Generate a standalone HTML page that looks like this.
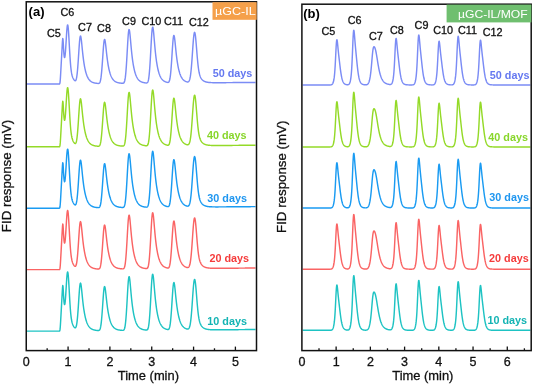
<!DOCTYPE html><html><head><meta charset="utf-8"><style>html,body{margin:0;padding:0;background:#fff;width:533px;height:384px;overflow:hidden}svg{display:block;will-change:transform}text[fill="#111"]{stroke:#111;stroke-width:.3px}</style></head><body>
<svg width="533" height="384" viewBox="0 0 533 384" font-family="Liberation Sans, sans-serif">
<polyline fill="none" stroke="#7b8cf5" stroke-width="1.45" stroke-linejoin="round" points="27.00,84.00 27.25,84.00 27.50,84.00 27.75,84.00 28.00,84.00 28.25,84.00 28.50,84.00 28.75,84.00 29.00,84.00 29.25,84.00 29.50,84.00 29.75,84.00 30.00,84.00 30.25,84.00 30.50,84.00 30.75,84.00 31.00,84.00 31.25,84.00 31.50,84.00 31.75,84.00 32.00,84.00 32.25,84.00 32.50,84.00 32.75,84.00 33.00,84.00 33.25,84.00 33.50,84.00 33.75,84.00 34.00,84.00 34.25,84.00 34.50,84.00 34.75,84.00 35.00,84.00 35.25,84.00 35.50,84.00 35.75,84.00 36.00,84.00 36.25,84.00 36.50,84.00 36.75,84.00 37.00,84.00 37.25,84.00 37.50,84.00 37.75,84.00 38.00,84.00 38.25,84.00 38.50,84.00 38.75,84.00 39.00,84.00 39.25,84.00 39.50,84.00 39.75,84.00 40.00,84.00 40.25,84.00 40.50,84.00 40.75,84.00 41.00,84.00 41.25,84.00 41.50,84.00 41.75,84.00 42.00,84.00 42.25,84.00 42.50,84.00 42.75,84.00 43.00,84.00 43.25,84.00 43.50,84.00 43.75,84.00 44.00,84.00 44.25,84.00 44.50,84.00 44.75,84.00 45.00,84.00 45.25,84.00 45.50,84.00 45.75,84.00 46.00,84.00 46.25,84.00 46.50,84.00 46.75,84.00 47.00,84.00 47.25,84.00 47.50,84.00 47.75,84.00 48.00,84.00 48.25,84.00 48.50,84.00 48.75,84.00 49.00,84.00 49.25,84.00 49.50,84.00 49.75,84.00 50.00,84.00 50.25,84.00 50.50,84.00 50.75,84.00 51.00,84.00 51.25,84.00 51.50,84.00 51.75,84.00 52.00,84.00 52.25,84.00 52.50,84.00 52.75,84.00 53.00,84.00 53.25,84.00 53.50,84.00 53.75,84.00 54.00,84.00 54.25,84.00 54.50,84.00 54.75,84.00 55.00,84.00 55.25,84.00 55.50,84.00 55.75,84.00 56.00,84.00 56.25,84.00 56.50,84.00 56.75,84.00 57.00,84.00 57.25,84.00 57.50,84.00 57.75,84.00 58.00,84.00 58.25,84.00 58.50,84.00 58.75,84.00 59.00,84.00 59.25,84.00 59.50,83.95 59.75,83.65 60.00,82.56 60.25,80.10 60.50,76.39 60.75,72.06 61.00,67.57 61.25,63.05 61.50,58.52 61.75,53.98 62.00,49.42 62.25,44.89 62.50,40.82 62.75,38.43 63.00,39.20 63.25,42.89 63.50,47.57 63.75,51.69 64.00,54.74 64.25,56.68 64.50,57.53 64.75,57.33 65.00,56.13 65.25,54.00 65.50,51.07 65.75,47.49 66.00,43.47 66.25,39.27 66.50,35.16 66.75,31.42 67.00,28.33 67.25,26.12 67.50,24.96 67.75,24.94 68.00,26.06 68.25,28.25 68.50,31.34 68.75,35.15 69.00,39.44 69.25,43.96 69.50,48.51 69.75,52.89 70.00,56.97 70.25,60.66 70.50,63.90 70.75,66.69 71.00,69.04 71.25,71.01 71.50,72.64 71.75,73.98 72.00,75.09 72.25,76.02 72.50,76.80 72.75,77.47 73.00,78.04 73.25,78.55 73.50,79.00 73.75,79.40 74.00,79.76 74.25,80.07 74.50,80.34 74.75,80.55 75.00,80.69 75.25,80.74 75.50,80.66 75.75,80.40 76.00,79.93 76.25,79.20 76.50,78.16 76.75,76.77 77.00,75.00 77.25,72.84 77.50,70.28 77.75,67.34 78.00,64.06 78.25,60.50 78.50,56.73 78.75,52.86 79.00,49.04 79.25,45.42 79.50,42.18 79.75,39.50 80.00,37.51 80.25,36.32 80.50,35.97 80.75,36.41 81.00,37.55 81.25,39.27 81.50,41.40 81.75,43.79 82.00,46.30 82.25,48.82 82.50,51.29 82.75,53.65 83.00,55.87 83.25,57.95 83.50,59.88 83.75,61.68 84.00,63.34 84.25,64.87 84.50,66.29 84.75,67.61 85.00,68.82 85.25,69.95 85.50,70.99 85.75,71.95 86.00,72.84 86.25,73.66 86.50,74.42 86.75,75.12 87.00,75.77 87.25,76.37 87.50,76.92 87.75,77.44 88.00,77.91 88.25,78.35 88.50,78.76 88.75,79.13 89.00,79.48 89.25,79.80 89.50,80.09 89.75,80.37 90.00,80.62 90.25,80.85 90.50,81.07 90.75,81.27 91.00,81.45 91.25,81.62 91.50,81.78 91.75,81.93 92.00,82.06 92.25,82.19 92.50,82.30 92.75,82.41 93.00,82.50 93.25,82.59 93.50,82.68 93.75,82.75 94.00,82.83 94.25,82.89 94.50,82.95 94.75,83.01 95.00,83.06 95.25,83.11 95.50,83.15 95.75,83.19 96.00,83.23 96.25,83.26 96.50,83.29 96.75,83.32 97.00,83.35 97.25,83.37 97.50,83.39 97.75,83.41 98.00,83.42 98.25,83.43 98.50,83.42 98.75,83.38 99.00,83.31 99.25,83.18 99.50,82.96 99.75,82.61 100.00,82.09 100.25,81.36 100.50,80.37 100.75,79.08 101.00,77.45 101.25,75.48 101.50,73.14 101.75,70.44 102.00,67.42 102.25,64.12 102.50,60.60 102.75,56.95 103.00,53.29 103.25,49.76 103.50,46.53 103.75,43.76 104.00,41.59 104.25,40.14 104.50,39.46 104.75,39.55 105.00,40.33 105.25,41.71 105.50,43.53 105.75,45.66 106.00,47.94 106.25,50.28 106.50,52.59 106.75,54.82 107.00,56.93 107.25,58.91 107.50,60.75 107.75,62.46 108.00,64.05 108.25,65.51 108.50,66.87 108.75,68.13 109.00,69.29 109.25,70.36 109.50,71.35 109.75,72.27 110.00,73.12 110.25,73.91 110.50,74.63 110.75,75.30 111.00,75.92 111.25,76.50 111.50,77.03 111.75,77.52 112.00,77.97 112.25,78.39 112.50,78.78 112.75,79.14 113.00,79.47 113.25,79.77 113.50,80.06 113.75,80.32 114.00,80.56 114.25,80.78 114.50,80.99 114.75,81.18 115.00,81.36 115.25,81.52 115.50,81.67 115.75,81.81 116.00,81.94 116.25,82.06 116.50,82.17 116.75,82.27 117.00,82.36 117.25,82.45 117.50,82.53 117.75,82.60 118.00,82.67 118.25,82.73 118.50,82.79 118.75,82.84 119.00,82.89 119.25,82.94 119.50,82.98 119.75,83.02 120.00,83.05 120.25,83.08 120.50,83.11 120.75,83.14 121.00,83.17 121.25,83.19 121.50,83.21 121.75,83.23 122.00,83.25 122.25,83.26 122.50,83.27 122.75,83.27 123.00,83.25 123.25,83.20 123.50,83.10 123.75,82.94 124.00,82.66 124.25,82.23 124.50,81.60 124.75,80.70 125.00,79.49 125.25,77.92 125.50,75.93 125.75,73.52 126.00,70.66 126.25,67.38 126.50,63.69 126.75,59.66 127.00,55.36 127.25,50.91 127.50,46.45 127.75,42.15 128.00,38.21 128.25,34.82 128.50,32.18 128.75,30.41 129.00,29.58 129.25,29.68 129.50,30.64 129.75,32.32 130.00,34.54 130.25,37.13 130.50,39.92 130.75,42.77 131.00,45.59 131.25,48.30 131.50,50.88 131.75,53.29 132.00,55.54 132.25,57.62 132.50,59.56 132.75,61.35 133.00,63.00 133.25,64.53 133.50,65.95 133.75,67.26 134.00,68.47 134.25,69.59 134.50,70.63 134.75,71.58 135.00,72.47 135.25,73.29 135.50,74.04 135.75,74.74 136.00,75.39 136.25,75.99 136.50,76.54 136.75,77.05 137.00,77.53 137.25,77.96 137.50,78.37 137.75,78.74 138.00,79.09 138.25,79.41 138.50,79.70 138.75,79.98 139.00,80.23 139.25,80.46 139.50,80.68 139.75,80.88 140.00,81.06 140.25,81.23 140.50,81.39 140.75,81.53 141.00,81.67 141.25,81.79 141.50,81.90 141.75,82.01 142.00,82.11 142.25,82.20 142.50,82.28 142.75,82.36 143.00,82.43 143.25,82.49 143.50,82.55 143.75,82.61 144.00,82.66 144.25,82.71 144.50,82.75 144.75,82.79 145.00,82.83 145.25,82.86 145.50,82.89 145.75,82.92 146.00,82.94 146.25,82.95 146.50,82.95 146.75,82.92 147.00,82.85 147.25,82.72 147.50,82.49 147.75,82.12 148.00,81.56 148.25,80.75 148.50,79.63 148.75,78.15 149.00,76.26 149.25,73.93 149.50,71.15 149.75,67.91 150.00,64.24 150.25,60.18 150.50,55.81 150.75,51.23 151.00,46.57 151.25,42.00 151.50,37.73 151.75,33.95 152.00,30.87 152.25,28.65 152.50,27.40 152.75,27.12 153.00,27.79 153.25,29.25 153.50,31.36 153.75,33.93 154.00,36.77 154.25,39.72 154.50,42.68 154.75,45.56 155.00,48.30 155.25,50.88 155.50,53.28 155.75,55.52 156.00,57.60 156.25,59.52 156.50,61.30 156.75,62.95 157.00,64.47 157.25,65.87 157.50,67.17 157.75,68.38 158.00,69.49 158.25,70.52 158.50,71.47 158.75,72.35 159.00,73.16 159.25,73.91 159.50,74.61 159.75,75.25 160.00,75.85 160.25,76.40 160.50,76.90 160.75,77.37 161.00,77.81 161.25,78.21 161.50,78.58 161.75,78.92 162.00,79.24 162.25,79.53 162.50,79.80 162.75,80.06 163.00,80.29 163.25,80.50 163.50,80.70 163.75,80.88 164.00,81.05 164.25,81.21 164.50,81.35 164.75,81.48 165.00,81.61 165.25,81.72 165.50,81.82 165.75,81.92 166.00,82.01 166.25,82.09 166.50,82.17 166.75,82.24 167.00,82.30 167.25,82.36 167.50,82.40 167.75,82.42 168.00,82.43 168.25,82.39 168.50,82.28 168.75,82.09 169.00,81.77 169.25,81.28 169.50,80.56 169.75,79.57 170.00,78.26 170.25,76.60 170.50,74.56 170.75,72.14 171.00,69.32 171.25,66.15 171.50,62.66 171.75,58.92 172.00,55.01 172.25,51.07 172.50,47.24 172.75,43.69 173.00,40.60 173.25,38.13 173.50,36.41 173.75,35.51 174.00,35.45 174.25,36.16 174.50,37.53 174.75,39.42 175.00,41.65 175.25,44.09 175.50,46.61 175.75,49.11 176.00,51.54 176.25,53.84 176.50,56.00 176.75,58.02 177.00,59.89 177.25,61.62 177.50,63.23 177.75,64.72 178.00,66.09 178.25,67.36 178.50,68.54 178.75,69.63 179.00,70.63 179.25,71.56 179.50,72.42 179.75,73.22 180.00,73.95 180.25,74.63 180.50,75.26 180.75,75.84 181.00,76.38 181.25,76.88 181.50,77.33 181.75,77.76 182.00,78.15 182.25,78.51 182.50,78.85 182.75,79.16 183.00,79.45 183.25,79.71 183.50,79.96 183.75,80.18 184.00,80.39 184.25,80.58 184.50,80.76 184.75,80.93 185.00,81.08 185.25,81.22 185.50,81.35 185.75,81.47 186.00,81.57 186.25,81.67 186.50,81.76 186.75,81.83 187.00,81.89 187.25,81.93 187.50,81.96 187.75,81.95 188.00,81.91 188.25,81.82 188.50,81.67 188.75,81.43 189.00,81.10 189.25,80.64 189.50,80.03 189.75,79.23 190.00,78.20 190.25,76.92 190.50,75.36 190.75,73.49 191.00,71.29 191.25,68.75 191.50,65.90 191.75,62.75 192.00,59.35 192.25,55.78 192.50,52.11 192.75,48.45 193.00,44.91 193.25,41.61 193.50,38.66 193.75,36.19 194.00,34.27 194.25,32.98 194.50,32.36 194.75,32.43 195.00,33.17 195.25,34.54 195.50,36.45 195.75,38.83 196.00,41.57 196.25,44.55 196.50,47.68 196.75,50.85 197.00,53.97 197.25,56.97 197.50,59.79 197.75,62.40 198.00,64.76 198.25,66.88 198.50,68.75 198.75,70.38 199.00,71.81 199.25,73.04 199.50,74.10 199.75,75.01 200.00,75.80 200.25,76.49 200.50,77.08 200.75,77.61 201.00,78.07 201.25,78.48 201.50,78.85 201.75,79.18 202.00,79.48 202.25,79.75 202.50,80.00 202.75,80.23 203.00,80.44 203.25,80.63 203.50,80.80 203.75,80.96 204.00,81.11 204.25,81.25 204.50,81.37 204.75,81.48 205.00,81.59 205.25,81.69 205.50,81.77 205.75,81.86 206.00,81.93 206.25,82.00 206.50,82.06 206.75,82.12 207.00,82.17 207.25,82.22 207.50,82.26 207.75,82.30 208.00,82.34 208.25,82.38 208.50,82.41 208.75,82.44 209.00,82.46 209.25,82.49 209.50,82.51 209.75,82.53 210.00,82.55 210.25,82.56 210.50,82.58 210.75,82.59 211.00,82.60 211.25,82.62 211.50,82.63 211.75,82.63 212.00,82.64 212.25,82.65 212.50,82.66 212.75,82.66 213.00,82.67 213.25,82.67 213.50,82.68 213.75,82.68 214.00,82.68 214.25,82.69 214.50,82.69 214.75,82.69 215.00,82.69 215.25,82.70 215.50,82.70 215.75,82.70 216.00,82.70 216.25,82.70 216.50,82.70 216.75,82.70 217.00,82.70 217.25,82.70 217.50,82.70 217.75,82.70 218.00,82.70 218.25,82.70 218.50,82.70 218.75,82.69 219.00,82.69 219.25,82.69 219.50,82.69 219.75,82.69 220.00,82.69 220.25,82.69 220.50,82.69 220.75,82.68 221.00,82.68 221.25,82.68 221.50,82.68 221.75,82.68 222.00,82.68 222.25,82.67 222.50,82.67 222.75,82.67 223.00,82.67 223.25,82.67 223.50,82.67 223.75,82.66 224.00,82.66 224.25,82.66 224.50,82.66 224.75,82.66 225.00,82.65 225.25,82.65 225.50,82.65 225.75,82.65 226.00,82.65 226.25,82.65 226.50,82.64 226.75,82.64 227.00,82.64 227.25,82.64 227.50,82.64 227.75,82.63 228.00,82.63 228.25,82.63 228.50,82.63 228.75,82.63 229.00,82.62 229.25,82.62 229.50,82.62 229.75,82.62 230.00,82.62 230.25,82.61 230.50,82.61 230.75,82.61 231.00,82.61 231.25,82.61 231.50,82.60 231.75,82.60 232.00,82.60 232.25,82.60 232.50,82.60 232.75,82.59 233.00,82.59 233.25,82.59 233.50,82.59 233.75,82.59 234.00,82.58 234.25,82.58 234.50,82.58 234.75,82.58 235.00,82.58 235.25,82.57 235.50,82.57 235.75,82.57 236.00,82.57 236.25,82.56 236.50,82.56 236.75,82.56 237.00,82.56 237.25,82.56 237.50,82.55 237.75,82.55 238.00,82.55 238.25,82.55 238.50,82.55 238.75,82.54 239.00,82.54 239.25,82.54 239.50,82.54 239.75,82.54 240.00,82.53 240.25,82.53 240.50,82.53 240.75,82.53 241.00,82.53 241.25,82.52 241.50,82.52 241.75,82.52 242.00,82.52 242.25,82.52 242.50,82.51 242.75,82.51 243.00,82.51 243.25,82.51 243.50,82.51 243.75,82.50 244.00,82.50 244.25,82.50 244.50,82.50 244.75,82.50 245.00,82.49 245.25,82.49 245.50,82.49 245.75,82.49 246.00,82.49 246.25,82.48 246.50,82.48 246.75,82.48 247.00,82.48 247.25,82.48 247.50,82.47 247.75,82.47 248.00,82.47 248.25,82.47 248.50,82.47 248.75,82.46 249.00,82.46 249.25,82.46 249.50,82.46 249.75,82.45 250.00,82.45 250.25,82.45 250.50,82.45 250.75,82.45 251.00,82.44 251.25,82.44 251.50,82.44 251.75,82.44 252.00,82.44 252.25,82.43 252.50,82.43 252.75,82.43 253.00,82.43 253.25,82.43 253.50,82.42 253.75,82.42 254.00,82.42 254.25,82.42 254.50,82.42 254.75,82.41 255.00,82.41 255.25,82.41 255.50,82.41"/>
<polyline fill="none" stroke="#7b8cf5" stroke-width="1.45" stroke-linejoin="round" points="302.65,84.94 302.90,84.94 303.15,84.94 303.40,84.94 303.65,84.94 303.90,84.94 304.15,84.94 304.40,84.94 304.65,84.94 304.90,84.94 305.15,84.94 305.40,84.94 305.65,84.94 305.90,84.94 306.15,84.94 306.40,84.94 306.65,84.94 306.90,84.94 307.15,84.94 307.40,84.94 307.65,84.94 307.90,84.94 308.15,84.94 308.40,84.94 308.65,84.94 308.90,84.94 309.15,84.94 309.40,84.94 309.65,84.94 309.90,84.94 310.15,84.94 310.40,84.94 310.65,84.94 310.90,84.94 311.15,84.94 311.40,84.94 311.65,84.94 311.90,84.94 312.15,84.94 312.40,84.94 312.65,84.94 312.90,84.94 313.15,84.94 313.40,84.94 313.65,84.94 313.90,84.94 314.15,84.94 314.40,84.94 314.65,84.94 314.90,84.94 315.15,84.94 315.40,84.94 315.65,84.94 315.90,84.94 316.15,84.94 316.40,84.94 316.65,84.94 316.90,84.94 317.15,84.94 317.40,84.94 317.65,84.94 317.90,84.94 318.15,84.94 318.40,84.94 318.65,84.94 318.90,84.94 319.15,84.94 319.40,84.94 319.65,84.94 319.90,84.94 320.15,84.94 320.40,84.94 320.65,84.94 320.90,84.94 321.15,84.94 321.40,84.94 321.65,84.94 321.90,84.94 322.15,84.94 322.40,84.94 322.65,84.94 322.90,84.94 323.15,84.94 323.40,84.94 323.65,84.94 323.90,84.94 324.15,84.94 324.40,84.94 324.65,84.94 324.90,84.94 325.15,84.94 325.40,84.94 325.65,84.94 325.90,84.94 326.15,84.94 326.40,84.94 326.65,84.94 326.90,84.94 327.15,84.94 327.40,84.94 327.65,84.94 327.90,84.94 328.15,84.94 328.40,84.94 328.65,84.94 328.90,84.94 329.15,84.94 329.40,84.94 329.65,84.93 329.90,84.93 330.15,84.92 330.40,84.91 330.65,84.89 330.90,84.86 331.15,84.82 331.40,84.75 331.65,84.66 331.90,84.52 332.15,84.33 332.40,84.06 332.65,83.70 332.90,83.22 333.15,82.60 333.40,81.80 333.65,80.78 333.90,79.50 334.15,77.89 334.40,75.85 334.65,73.28 334.90,70.06 335.15,66.12 335.40,61.50 335.65,56.40 335.90,51.21 336.15,46.46 336.40,42.71 336.65,40.38 336.90,39.64 337.15,40.35 337.40,42.14 337.65,44.55 337.90,47.18 338.15,49.76 338.40,52.19 338.65,54.47 338.90,56.66 339.15,58.81 339.40,60.96 339.65,63.11 339.90,65.23 340.15,67.31 340.40,69.29 340.65,71.16 340.90,72.90 341.15,74.48 341.40,75.90 341.65,77.17 341.90,78.28 342.15,79.26 342.40,80.11 342.65,80.84 342.90,81.46 343.15,82.00 343.40,82.45 343.65,82.84 343.90,83.17 344.15,83.45 344.40,83.68 344.65,83.88 344.90,84.04 345.15,84.18 345.40,84.30 345.65,84.40 345.90,84.49 346.15,84.56 346.40,84.61 346.65,84.66 346.90,84.70 347.15,84.72 347.40,84.73 347.65,84.73 347.90,84.71 348.15,84.67 348.40,84.59 348.65,84.47 348.90,84.29 349.15,84.03 349.40,83.68 349.65,83.19 349.90,82.56 350.15,81.72 350.40,80.66 350.65,79.31 350.90,77.62 351.15,75.48 351.40,72.77 351.65,69.36 351.90,65.13 352.15,60.02 352.40,54.16 352.65,47.88 352.90,41.73 353.15,36.39 353.40,32.50 353.65,30.45 353.90,30.29 354.15,31.73 354.40,34.27 354.65,37.34 354.90,40.53 355.15,43.59 355.40,46.45 355.65,49.15 355.90,51.77 356.15,54.37 356.40,56.97 356.65,59.56 356.90,62.12 357.15,64.59 357.40,66.94 357.65,69.13 357.90,71.16 358.15,72.99 358.40,74.64 358.65,76.10 358.90,77.38 359.15,78.50 359.40,79.46 359.65,80.29 359.90,81.01 360.15,81.61 360.40,82.13 360.65,82.57 360.90,82.94 361.15,83.25 361.40,83.52 361.65,83.74 361.90,83.93 362.15,84.09 362.40,84.22 362.65,84.33 362.90,84.43 363.15,84.51 363.40,84.58 363.65,84.63 363.90,84.68 364.15,84.72 364.40,84.75 364.65,84.78 364.90,84.80 365.15,84.81 365.40,84.82 365.65,84.81 365.90,84.80 366.15,84.78 366.40,84.75 366.65,84.70 366.90,84.62 367.15,84.51 367.40,84.37 367.65,84.19 367.90,83.94 368.15,83.63 368.40,83.24 368.65,82.75 368.90,82.16 369.15,81.43 369.40,80.57 369.65,79.55 369.90,78.34 370.15,76.94 370.40,75.31 370.65,73.44 370.90,71.30 371.15,68.89 371.40,66.23 371.65,63.37 371.90,60.40 372.15,57.46 372.40,54.69 372.65,52.23 372.90,50.21 373.15,48.67 373.40,47.62 373.65,47.01 373.90,46.76 374.15,46.78 374.40,47.01 374.65,47.39 374.90,47.92 375.15,48.60 375.40,49.42 375.65,50.39 375.90,51.51 376.15,52.76 376.40,54.12 376.65,55.58 376.90,57.10 377.15,58.65 377.40,60.22 377.65,61.77 377.90,63.30 378.15,64.78 378.40,66.21 378.65,67.58 378.90,68.87 379.15,70.09 379.40,71.23 379.65,72.30 379.90,73.29 380.15,74.22 380.40,75.07 380.65,75.86 380.90,76.60 381.15,77.27 381.40,77.89 381.65,78.46 381.90,78.98 382.15,79.47 382.40,79.91 382.65,80.32 382.90,80.70 383.15,81.04 383.40,81.36 383.65,81.65 383.90,81.92 384.15,82.16 384.40,82.39 384.65,82.59 384.90,82.79 385.15,82.96 385.40,83.12 385.65,83.27 385.90,83.40 386.15,83.53 386.40,83.64 386.65,83.75 386.90,83.85 387.15,83.93 387.40,84.02 387.65,84.09 387.90,84.16 388.15,84.22 388.40,84.28 388.65,84.33 388.90,84.38 389.15,84.42 389.40,84.45 389.65,84.48 389.90,84.49 390.15,84.49 390.40,84.47 390.65,84.43 390.90,84.35 391.15,84.22 391.40,84.03 391.65,83.75 391.90,83.38 392.15,82.88 392.40,82.22 392.65,81.37 392.90,80.29 393.15,78.92 393.40,77.20 393.65,75.02 393.90,72.26 394.15,68.82 394.40,64.64 394.65,59.78 394.90,54.50 395.15,49.22 395.40,44.51 395.65,40.93 395.90,38.87 396.15,38.43 396.40,39.42 396.65,41.42 396.90,43.98 397.15,46.69 397.40,49.31 397.65,51.78 397.90,54.09 398.15,56.33 398.40,58.54 398.65,60.74 398.90,62.95 399.15,65.13 399.40,67.24 399.65,69.26 399.90,71.15 400.15,72.90 400.40,74.49 400.65,75.92 400.90,77.19 401.15,78.31 401.40,79.28 401.65,80.13 401.90,80.86 402.15,81.48 402.40,82.01 402.65,82.47 402.90,82.85 403.15,83.18 403.40,83.45 403.65,83.69 403.90,83.88 404.15,84.05 404.40,84.19 404.65,84.31 404.90,84.41 405.15,84.49 405.40,84.56 405.65,84.62 405.90,84.67 406.15,84.71 406.40,84.75 406.65,84.78 406.90,84.80 407.15,84.82 407.40,84.84 407.65,84.86 407.90,84.87 408.15,84.88 408.40,84.89 408.65,84.90 408.90,84.90 409.15,84.91 409.40,84.91 409.65,84.92 409.90,84.92 410.15,84.92 410.40,84.93 410.65,84.93 410.90,84.93 411.15,84.93 411.40,84.93 411.65,84.93 411.90,84.92 412.15,84.91 412.40,84.90 412.65,84.87 412.90,84.84 413.15,84.78 413.40,84.70 413.65,84.57 413.90,84.40 414.15,84.16 414.40,83.82 414.65,83.38 414.90,82.79 415.15,82.03 415.40,81.05 415.65,79.82 415.90,78.27 416.15,76.32 416.40,73.85 416.65,70.74 416.90,66.87 417.15,62.21 417.40,56.86 417.65,51.13 417.90,45.52 418.15,40.65 418.40,37.09 418.65,35.22 418.90,35.08 419.15,36.40 419.40,38.71 419.65,41.51 419.90,44.42 420.15,47.21 420.40,49.82 420.65,52.28 420.90,54.67 421.15,57.05 421.40,59.42 421.65,61.79 421.90,64.12 422.15,66.37 422.40,68.51 422.65,70.52 422.90,72.36 423.15,74.04 423.40,75.54 423.65,76.87 423.90,78.04 424.15,79.06 424.40,79.94 424.65,80.70 424.90,81.35 425.15,81.90 425.40,82.37 425.65,82.77 425.90,83.11 426.15,83.40 426.40,83.64 426.65,83.84 426.90,84.02 427.15,84.16 427.40,84.28 427.65,84.39 427.90,84.47 428.15,84.55 428.40,84.61 428.65,84.66 428.90,84.71 429.15,84.74 429.40,84.77 429.65,84.80 429.90,84.82 430.15,84.84 430.40,84.86 430.65,84.87 430.90,84.88 431.15,84.89 431.40,84.90 431.65,84.90 431.90,84.90 432.15,84.90 432.40,84.90 432.65,84.89 432.90,84.87 433.15,84.85 433.40,84.80 433.65,84.74 433.90,84.64 434.15,84.50 434.40,84.30 434.65,84.02 434.90,83.66 435.15,83.17 435.40,82.53 435.65,81.72 435.90,80.69 436.15,79.39 436.40,77.76 436.65,75.70 436.90,73.09 437.15,69.84 437.40,65.90 437.65,61.32 437.90,56.33 438.15,51.35 438.40,46.91 438.65,43.54 438.90,41.59 439.15,41.17 439.40,42.10 439.65,43.99 439.90,46.39 440.15,48.94 440.40,51.41 440.65,53.73 440.90,55.91 441.15,58.01 441.40,60.09 441.65,62.17 441.90,64.24 442.15,66.29 442.40,68.28 442.65,70.18 442.90,71.97 443.15,73.61 443.40,75.11 443.65,76.46 443.90,77.65 444.15,78.70 444.40,79.62 444.65,80.42 444.90,81.10 445.15,81.69 445.40,82.19 445.65,82.62 445.90,82.98 446.15,83.28 446.40,83.54 446.65,83.76 446.90,83.95 447.15,84.10 447.40,84.23 447.65,84.35 447.90,84.44 448.15,84.52 448.40,84.58 448.65,84.64 448.90,84.69 449.15,84.73 449.40,84.76 449.65,84.79 449.90,84.81 450.15,84.83 450.40,84.85 450.65,84.86 450.90,84.87 451.15,84.88 451.40,84.88 451.65,84.87 451.90,84.86 452.15,84.84 452.40,84.80 452.65,84.74 452.90,84.65 453.15,84.51 453.40,84.32 453.65,84.05 453.90,83.69 454.15,83.20 454.40,82.57 454.65,81.75 454.90,80.71 455.15,79.39 455.40,77.73 455.65,75.64 455.90,73.00 456.15,69.69 456.40,65.62 456.65,60.79 456.90,55.38 457.15,49.77 457.40,44.52 457.65,40.23 457.90,37.40 458.15,36.27 458.40,36.74 458.65,38.47 458.90,40.97 459.15,43.78 459.40,46.58 459.65,49.23 459.90,51.71 460.15,54.07 460.40,56.39 460.65,58.70 460.90,61.01 461.15,63.30 461.40,65.55 461.65,67.70 461.90,69.74 462.15,71.63 462.40,73.36 462.65,74.93 462.90,76.32 463.15,77.56 463.40,78.63 463.65,79.57 463.90,80.38 464.15,81.08 464.40,81.67 464.65,82.18 464.90,82.60 465.15,82.97 465.40,83.28 465.65,83.54 465.90,83.76 466.15,83.94 466.40,84.10 466.65,84.23 466.90,84.34 467.15,84.44 467.40,84.52 467.65,84.58 467.90,84.64 468.15,84.69 468.40,84.73 468.65,84.76 468.90,84.79 469.15,84.81 469.40,84.83 469.65,84.85 469.90,84.86 470.15,84.88 470.40,84.89 470.65,84.89 470.90,84.90 471.15,84.91 471.40,84.91 471.65,84.92 471.90,84.92 472.15,84.92 472.40,84.93 472.65,84.93 472.90,84.93 473.15,84.93 473.40,84.92 473.65,84.92 473.90,84.91 474.15,84.90 474.40,84.87 474.65,84.84 474.90,84.78 475.15,84.70 475.40,84.58 475.65,84.42 475.90,84.18 476.15,83.87 476.40,83.44 476.65,82.89 476.90,82.17 477.15,81.25 477.40,80.09 477.65,78.63 477.90,76.79 478.15,74.47 478.40,71.55 478.65,67.93 478.90,63.61 479.15,58.71 479.40,53.54 479.65,48.59 479.90,44.42 480.15,41.51 480.40,40.15 480.65,40.31 480.90,41.71 481.15,43.90 481.40,46.47 481.65,49.07 481.90,51.54 482.15,53.85 482.40,56.05 482.65,58.19 482.90,60.32 483.15,62.45 483.40,64.57 483.65,66.65 483.90,68.66 484.15,70.56 484.40,72.33 484.65,73.96 484.90,75.43 485.15,76.75 485.40,77.92 485.65,78.94 485.90,79.83 486.15,80.60 486.40,81.26 486.65,81.82 486.90,82.30 487.15,82.71 487.40,83.06 487.65,83.35 487.90,83.60 488.15,83.81 488.40,83.99 488.65,84.14 488.90,84.26 489.15,84.37 489.40,84.46 489.65,84.54 489.90,84.60 490.15,84.65 490.40,84.70 490.65,84.74 490.90,84.77 491.15,84.80 491.40,84.82 491.65,84.84 491.90,84.85 492.15,84.87 492.40,84.88 492.65,84.89 492.90,84.90 493.15,84.90 493.40,84.91 493.65,84.91 493.90,84.92 494.15,84.92 494.40,84.92 494.65,84.93 494.90,84.93 495.15,84.93 495.40,84.93 495.65,84.93 495.90,84.93 496.15,84.94 496.40,84.94 496.65,84.94 496.90,84.94 497.15,84.94 497.40,84.94 497.65,84.94 497.90,84.94 498.15,84.94 498.40,84.94 498.65,84.94 498.90,84.94 499.15,84.94 499.40,84.94 499.65,84.94 499.90,84.94 500.15,84.94 500.40,84.94 500.65,84.94 500.90,84.94 501.15,84.94 501.40,84.94 501.65,84.94 501.90,84.94 502.15,84.94 502.40,84.94 502.65,84.94 502.90,84.94 503.15,84.94 503.40,84.94 503.65,84.94 503.90,84.94 504.15,84.94 504.40,84.94 504.65,84.94 504.90,84.94 505.15,84.94 505.40,84.94 505.65,84.94 505.90,84.94 506.15,84.94 506.40,84.94 506.65,84.94 506.90,84.94 507.15,84.94 507.40,84.94 507.65,84.94 507.90,84.94 508.15,84.94 508.40,84.94 508.65,84.94 508.90,84.94 509.15,84.94 509.40,84.94 509.65,84.94 509.90,84.94 510.15,84.94 510.40,84.94 510.65,84.94 510.90,84.94 511.15,84.94 511.40,84.94 511.65,84.94 511.90,84.94 512.15,84.94 512.40,84.94 512.65,84.94 512.90,84.94 513.15,84.94 513.40,84.94 513.65,84.94 513.90,84.94 514.15,84.94 514.40,84.94 514.65,84.94 514.90,84.94 515.15,84.94 515.40,84.94 515.65,84.94 515.90,84.94 516.15,84.94 516.40,84.94 516.65,84.94 516.90,84.94 517.15,84.94 517.40,84.94 517.65,84.94 517.90,84.94 518.15,84.94 518.40,84.94 518.65,84.94 518.90,84.94 519.15,84.94 519.40,84.94 519.65,84.94 519.90,84.94 520.15,84.94 520.40,84.94 520.65,84.94 520.90,84.94 521.15,84.94 521.40,84.94 521.65,84.94 521.90,84.94 522.15,84.94 522.40,84.94 522.65,84.94 522.90,84.94 523.15,84.94 523.40,84.94 523.65,84.94 523.90,84.94 524.15,84.94 524.40,84.94 524.65,84.94 524.90,84.94 525.15,84.94 525.40,84.94 525.65,84.94 525.90,84.94 526.15,84.94 526.40,84.94 526.65,84.94 526.90,84.94 527.15,84.94 527.40,84.94 527.65,84.94 527.90,84.94 528.15,84.94 528.40,84.94 528.65,84.94 528.90,84.94 529.15,84.94 529.40,84.94 529.65,84.94 529.90,84.94 530.15,84.94 530.40,84.94"/>
<polyline fill="none" stroke="#94da28" stroke-width="1.45" stroke-linejoin="round" points="27.00,146.80 27.25,146.80 27.50,146.80 27.75,146.80 28.00,146.80 28.25,146.80 28.50,146.80 28.75,146.80 29.00,146.80 29.25,146.80 29.50,146.80 29.75,146.80 30.00,146.80 30.25,146.80 30.50,146.80 30.75,146.80 31.00,146.80 31.25,146.80 31.50,146.80 31.75,146.80 32.00,146.80 32.25,146.80 32.50,146.80 32.75,146.80 33.00,146.80 33.25,146.80 33.50,146.80 33.75,146.80 34.00,146.80 34.25,146.80 34.50,146.80 34.75,146.80 35.00,146.80 35.25,146.80 35.50,146.80 35.75,146.80 36.00,146.80 36.25,146.80 36.50,146.80 36.75,146.80 37.00,146.80 37.25,146.80 37.50,146.80 37.75,146.80 38.00,146.80 38.25,146.80 38.50,146.80 38.75,146.80 39.00,146.80 39.25,146.80 39.50,146.80 39.75,146.80 40.00,146.80 40.25,146.80 40.50,146.80 40.75,146.80 41.00,146.80 41.25,146.80 41.50,146.80 41.75,146.80 42.00,146.80 42.25,146.80 42.50,146.80 42.75,146.80 43.00,146.80 43.25,146.80 43.50,146.80 43.75,146.80 44.00,146.80 44.25,146.80 44.50,146.80 44.75,146.80 45.00,146.80 45.25,146.80 45.50,146.80 45.75,146.80 46.00,146.80 46.25,146.80 46.50,146.80 46.75,146.80 47.00,146.80 47.25,146.80 47.50,146.80 47.75,146.80 48.00,146.80 48.25,146.80 48.50,146.80 48.75,146.80 49.00,146.80 49.25,146.80 49.50,146.80 49.75,146.80 50.00,146.80 50.25,146.80 50.50,146.80 50.75,146.80 51.00,146.80 51.25,146.80 51.50,146.80 51.75,146.80 52.00,146.80 52.25,146.80 52.50,146.80 52.75,146.80 53.00,146.80 53.25,146.80 53.50,146.80 53.75,146.80 54.00,146.80 54.25,146.80 54.50,146.80 54.75,146.80 55.00,146.80 55.25,146.80 55.50,146.80 55.75,146.80 56.00,146.80 56.25,146.80 56.50,146.80 56.75,146.80 57.00,146.80 57.25,146.80 57.50,146.80 57.75,146.80 58.00,146.80 58.25,146.80 58.50,146.80 58.75,146.80 59.00,146.80 59.25,146.80 59.50,146.75 59.75,146.45 60.00,145.36 60.25,142.90 60.50,139.19 60.75,134.86 61.00,130.37 61.25,125.85 61.50,121.32 61.75,116.78 62.00,112.22 62.25,107.69 62.50,103.62 62.75,101.23 63.00,102.00 63.25,105.69 63.50,110.37 63.75,114.49 64.00,117.54 64.25,119.48 64.50,120.33 64.75,120.13 65.00,118.93 65.25,116.80 65.50,113.87 65.75,110.29 66.00,106.27 66.25,102.07 66.50,97.96 66.75,94.22 67.00,91.13 67.25,88.92 67.50,87.76 67.75,87.74 68.00,88.86 68.25,91.05 68.50,94.14 68.75,97.95 69.00,102.24 69.25,106.76 69.50,111.31 69.75,115.69 70.00,119.77 70.25,123.46 70.50,126.70 70.75,129.49 71.00,131.84 71.25,133.81 71.50,135.44 71.75,136.78 72.00,137.89 72.25,138.82 72.50,139.60 72.75,140.27 73.00,140.84 73.25,141.35 73.50,141.80 73.75,142.20 74.00,142.56 74.25,142.87 74.50,143.14 74.75,143.35 75.00,143.49 75.25,143.54 75.50,143.46 75.75,143.20 76.00,142.73 76.25,142.00 76.50,140.96 76.75,139.57 77.00,137.80 77.25,135.64 77.50,133.08 77.75,130.14 78.00,126.86 78.25,123.30 78.50,119.53 78.75,115.66 79.00,111.84 79.25,108.22 79.50,104.98 79.75,102.30 80.00,100.31 80.25,99.12 80.50,98.77 80.75,99.21 81.00,100.35 81.25,102.07 81.50,104.20 81.75,106.59 82.00,109.10 82.25,111.62 82.50,114.09 82.75,116.45 83.00,118.67 83.25,120.75 83.50,122.68 83.75,124.48 84.00,126.14 84.25,127.67 84.50,129.09 84.75,130.41 85.00,131.62 85.25,132.75 85.50,133.79 85.75,134.75 86.00,135.64 86.25,136.46 86.50,137.22 86.75,137.92 87.00,138.57 87.25,139.17 87.50,139.72 87.75,140.24 88.00,140.71 88.25,141.15 88.50,141.56 88.75,141.93 89.00,142.28 89.25,142.60 89.50,142.89 89.75,143.17 90.00,143.42 90.25,143.65 90.50,143.87 90.75,144.07 91.00,144.25 91.25,144.42 91.50,144.58 91.75,144.73 92.00,144.86 92.25,144.99 92.50,145.10 92.75,145.21 93.00,145.30 93.25,145.39 93.50,145.48 93.75,145.55 94.00,145.63 94.25,145.69 94.50,145.75 94.75,145.81 95.00,145.86 95.25,145.91 95.50,145.95 95.75,145.99 96.00,146.03 96.25,146.06 96.50,146.09 96.75,146.12 97.00,146.15 97.25,146.17 97.50,146.19 97.75,146.21 98.00,146.22 98.25,146.23 98.50,146.22 98.75,146.18 99.00,146.11 99.25,145.98 99.50,145.76 99.75,145.41 100.00,144.89 100.25,144.16 100.50,143.17 100.75,141.88 101.00,140.25 101.25,138.28 101.50,135.94 101.75,133.24 102.00,130.22 102.25,126.92 102.50,123.40 102.75,119.75 103.00,116.09 103.25,112.56 103.50,109.33 103.75,106.56 104.00,104.39 104.25,102.94 104.50,102.26 104.75,102.35 105.00,103.13 105.25,104.51 105.50,106.33 105.75,108.46 106.00,110.74 106.25,113.08 106.50,115.39 106.75,117.62 107.00,119.73 107.25,121.71 107.50,123.55 107.75,125.26 108.00,126.85 108.25,128.31 108.50,129.67 108.75,130.93 109.00,132.09 109.25,133.16 109.50,134.15 109.75,135.07 110.00,135.92 110.25,136.71 110.50,137.43 110.75,138.10 111.00,138.72 111.25,139.30 111.50,139.83 111.75,140.32 112.00,140.77 112.25,141.19 112.50,141.58 112.75,141.94 113.00,142.27 113.25,142.57 113.50,142.86 113.75,143.12 114.00,143.36 114.25,143.58 114.50,143.79 114.75,143.98 115.00,144.16 115.25,144.32 115.50,144.47 115.75,144.61 116.00,144.74 116.25,144.86 116.50,144.97 116.75,145.07 117.00,145.16 117.25,145.25 117.50,145.33 117.75,145.40 118.00,145.47 118.25,145.53 118.50,145.59 118.75,145.64 119.00,145.69 119.25,145.74 119.50,145.78 119.75,145.82 120.00,145.85 120.25,145.88 120.50,145.91 120.75,145.94 121.00,145.97 121.25,145.99 121.50,146.01 121.75,146.03 122.00,146.05 122.25,146.06 122.50,146.07 122.75,146.07 123.00,146.05 123.25,146.00 123.50,145.90 123.75,145.74 124.00,145.46 124.25,145.03 124.50,144.40 124.75,143.50 125.00,142.29 125.25,140.72 125.50,138.73 125.75,136.32 126.00,133.46 126.25,130.18 126.50,126.49 126.75,122.46 127.00,118.16 127.25,113.71 127.50,109.25 127.75,104.95 128.00,101.01 128.25,97.62 128.50,94.98 128.75,93.21 129.00,92.38 129.25,92.48 129.50,93.44 129.75,95.12 130.00,97.34 130.25,99.93 130.50,102.72 130.75,105.57 131.00,108.39 131.25,111.10 131.50,113.68 131.75,116.09 132.00,118.34 132.25,120.42 132.50,122.36 132.75,124.15 133.00,125.80 133.25,127.33 133.50,128.75 133.75,130.06 134.00,131.27 134.25,132.39 134.50,133.43 134.75,134.38 135.00,135.27 135.25,136.09 135.50,136.84 135.75,137.54 136.00,138.19 136.25,138.79 136.50,139.34 136.75,139.85 137.00,140.33 137.25,140.76 137.50,141.17 137.75,141.54 138.00,141.89 138.25,142.21 138.50,142.50 138.75,142.78 139.00,143.03 139.25,143.26 139.50,143.48 139.75,143.68 140.00,143.86 140.25,144.03 140.50,144.19 140.75,144.33 141.00,144.47 141.25,144.59 141.50,144.70 141.75,144.81 142.00,144.91 142.25,145.00 142.50,145.08 142.75,145.16 143.00,145.23 143.25,145.29 143.50,145.35 143.75,145.41 144.00,145.46 144.25,145.51 144.50,145.55 144.75,145.59 145.00,145.63 145.25,145.66 145.50,145.69 145.75,145.72 146.00,145.74 146.25,145.75 146.50,145.75 146.75,145.72 147.00,145.65 147.25,145.52 147.50,145.29 147.75,144.92 148.00,144.36 148.25,143.55 148.50,142.43 148.75,140.95 149.00,139.06 149.25,136.73 149.50,133.95 149.75,130.71 150.00,127.04 150.25,122.98 150.50,118.61 150.75,114.03 151.00,109.37 151.25,104.80 151.50,100.53 151.75,96.75 152.00,93.67 152.25,91.45 152.50,90.20 152.75,89.92 153.00,90.59 153.25,92.05 153.50,94.16 153.75,96.73 154.00,99.57 154.25,102.52 154.50,105.48 154.75,108.36 155.00,111.10 155.25,113.68 155.50,116.08 155.75,118.32 156.00,120.40 156.25,122.32 156.50,124.10 156.75,125.75 157.00,127.27 157.25,128.67 157.50,129.97 157.75,131.18 158.00,132.29 158.25,133.32 158.50,134.27 158.75,135.15 159.00,135.96 159.25,136.71 159.50,137.41 159.75,138.05 160.00,138.65 160.25,139.20 160.50,139.70 160.75,140.17 161.00,140.61 161.25,141.01 161.50,141.38 161.75,141.72 162.00,142.04 162.25,142.33 162.50,142.60 162.75,142.86 163.00,143.09 163.25,143.30 163.50,143.50 163.75,143.68 164.00,143.85 164.25,144.01 164.50,144.15 164.75,144.28 165.00,144.41 165.25,144.52 165.50,144.62 165.75,144.72 166.00,144.81 166.25,144.89 166.50,144.97 166.75,145.04 167.00,145.10 167.25,145.16 167.50,145.20 167.75,145.22 168.00,145.23 168.25,145.19 168.50,145.08 168.75,144.89 169.00,144.57 169.25,144.08 169.50,143.36 169.75,142.37 170.00,141.06 170.25,139.40 170.50,137.36 170.75,134.94 171.00,132.12 171.25,128.95 171.50,125.46 171.75,121.72 172.00,117.81 172.25,113.87 172.50,110.04 172.75,106.49 173.00,103.40 173.25,100.93 173.50,99.21 173.75,98.31 174.00,98.25 174.25,98.96 174.50,100.33 174.75,102.22 175.00,104.45 175.25,106.89 175.50,109.41 175.75,111.91 176.00,114.34 176.25,116.64 176.50,118.80 176.75,120.82 177.00,122.69 177.25,124.42 177.50,126.03 177.75,127.52 178.00,128.89 178.25,130.16 178.50,131.34 178.75,132.43 179.00,133.43 179.25,134.36 179.50,135.22 179.75,136.02 180.00,136.75 180.25,137.43 180.50,138.06 180.75,138.64 181.00,139.18 181.25,139.68 181.50,140.13 181.75,140.56 182.00,140.95 182.25,141.31 182.50,141.65 182.75,141.96 183.00,142.25 183.25,142.51 183.50,142.76 183.75,142.98 184.00,143.19 184.25,143.38 184.50,143.56 184.75,143.73 185.00,143.88 185.25,144.02 185.50,144.15 185.75,144.27 186.00,144.37 186.25,144.47 186.50,144.56 186.75,144.63 187.00,144.69 187.25,144.73 187.50,144.76 187.75,144.75 188.00,144.71 188.25,144.62 188.50,144.47 188.75,144.23 189.00,143.90 189.25,143.44 189.50,142.83 189.75,142.03 190.00,141.00 190.25,139.72 190.50,138.16 190.75,136.29 191.00,134.09 191.25,131.55 191.50,128.70 191.75,125.55 192.00,122.15 192.25,118.58 192.50,114.91 192.75,111.25 193.00,107.71 193.25,104.41 193.50,101.46 193.75,98.99 194.00,97.07 194.25,95.78 194.50,95.16 194.75,95.23 195.00,95.97 195.25,97.34 195.50,99.25 195.75,101.63 196.00,104.37 196.25,107.35 196.50,110.48 196.75,113.65 197.00,116.77 197.25,119.77 197.50,122.59 197.75,125.20 198.00,127.56 198.25,129.68 198.50,131.55 198.75,133.18 199.00,134.61 199.25,135.84 199.50,136.90 199.75,137.81 200.00,138.60 200.25,139.29 200.50,139.88 200.75,140.41 201.00,140.87 201.25,141.28 201.50,141.65 201.75,141.98 202.00,142.28 202.25,142.55 202.50,142.80 202.75,143.03 203.00,143.24 203.25,143.43 203.50,143.60 203.75,143.76 204.00,143.91 204.25,144.05 204.50,144.17 204.75,144.28 205.00,144.39 205.25,144.49 205.50,144.57 205.75,144.66 206.00,144.73 206.25,144.80 206.50,144.86 206.75,144.92 207.00,144.97 207.25,145.02 207.50,145.06 207.75,145.10 208.00,145.14 208.25,145.18 208.50,145.21 208.75,145.24 209.00,145.26 209.25,145.29 209.50,145.31 209.75,145.33 210.00,145.35 210.25,145.36 210.50,145.38 210.75,145.39 211.00,145.40 211.25,145.42 211.50,145.43 211.75,145.43 212.00,145.44 212.25,145.45 212.50,145.46 212.75,145.46 213.00,145.47 213.25,145.47 213.50,145.48 213.75,145.48 214.00,145.48 214.25,145.49 214.50,145.49 214.75,145.49 215.00,145.49 215.25,145.50 215.50,145.50 215.75,145.50 216.00,145.50 216.25,145.50 216.50,145.50 216.75,145.50 217.00,145.50 217.25,145.50 217.50,145.50 217.75,145.50 218.00,145.50 218.25,145.50 218.50,145.50 218.75,145.49 219.00,145.49 219.25,145.49 219.50,145.49 219.75,145.49 220.00,145.49 220.25,145.49 220.50,145.49 220.75,145.48 221.00,145.48 221.25,145.48 221.50,145.48 221.75,145.48 222.00,145.48 222.25,145.47 222.50,145.47 222.75,145.47 223.00,145.47 223.25,145.47 223.50,145.47 223.75,145.46 224.00,145.46 224.25,145.46 224.50,145.46 224.75,145.46 225.00,145.45 225.25,145.45 225.50,145.45 225.75,145.45 226.00,145.45 226.25,145.45 226.50,145.44 226.75,145.44 227.00,145.44 227.25,145.44 227.50,145.44 227.75,145.43 228.00,145.43 228.25,145.43 228.50,145.43 228.75,145.43 229.00,145.42 229.25,145.42 229.50,145.42 229.75,145.42 230.00,145.42 230.25,145.41 230.50,145.41 230.75,145.41 231.00,145.41 231.25,145.41 231.50,145.40 231.75,145.40 232.00,145.40 232.25,145.40 232.50,145.40 232.75,145.39 233.00,145.39 233.25,145.39 233.50,145.39 233.75,145.39 234.00,145.38 234.25,145.38 234.50,145.38 234.75,145.38 235.00,145.38 235.25,145.37 235.50,145.37 235.75,145.37 236.00,145.37 236.25,145.36 236.50,145.36 236.75,145.36 237.00,145.36 237.25,145.36 237.50,145.35 237.75,145.35 238.00,145.35 238.25,145.35 238.50,145.35 238.75,145.34 239.00,145.34 239.25,145.34 239.50,145.34 239.75,145.34 240.00,145.33 240.25,145.33 240.50,145.33 240.75,145.33 241.00,145.33 241.25,145.32 241.50,145.32 241.75,145.32 242.00,145.32 242.25,145.32 242.50,145.31 242.75,145.31 243.00,145.31 243.25,145.31 243.50,145.31 243.75,145.30 244.00,145.30 244.25,145.30 244.50,145.30 244.75,145.30 245.00,145.29 245.25,145.29 245.50,145.29 245.75,145.29 246.00,145.29 246.25,145.28 246.50,145.28 246.75,145.28 247.00,145.28 247.25,145.28 247.50,145.27 247.75,145.27 248.00,145.27 248.25,145.27 248.50,145.27 248.75,145.26 249.00,145.26 249.25,145.26 249.50,145.26 249.75,145.25 250.00,145.25 250.25,145.25 250.50,145.25 250.75,145.25 251.00,145.24 251.25,145.24 251.50,145.24 251.75,145.24 252.00,145.24 252.25,145.23 252.50,145.23 252.75,145.23 253.00,145.23 253.25,145.23 253.50,145.22 253.75,145.22 254.00,145.22 254.25,145.22 254.50,145.22 254.75,145.21 255.00,145.21 255.25,145.21 255.50,145.21"/>
<polyline fill="none" stroke="#94da28" stroke-width="1.45" stroke-linejoin="round" points="302.65,146.93 302.90,146.93 303.15,146.93 303.40,146.93 303.65,146.93 303.90,146.93 304.15,146.93 304.40,146.93 304.65,146.93 304.90,146.93 305.15,146.93 305.40,146.93 305.65,146.93 305.90,146.93 306.15,146.93 306.40,146.93 306.65,146.93 306.90,146.93 307.15,146.93 307.40,146.93 307.65,146.93 307.90,146.93 308.15,146.93 308.40,146.93 308.65,146.93 308.90,146.93 309.15,146.93 309.40,146.93 309.65,146.93 309.90,146.93 310.15,146.93 310.40,146.93 310.65,146.93 310.90,146.93 311.15,146.93 311.40,146.93 311.65,146.93 311.90,146.93 312.15,146.93 312.40,146.93 312.65,146.93 312.90,146.93 313.15,146.93 313.40,146.93 313.65,146.93 313.90,146.93 314.15,146.93 314.40,146.93 314.65,146.93 314.90,146.93 315.15,146.93 315.40,146.93 315.65,146.93 315.90,146.93 316.15,146.93 316.40,146.93 316.65,146.93 316.90,146.93 317.15,146.93 317.40,146.93 317.65,146.93 317.90,146.93 318.15,146.93 318.40,146.93 318.65,146.93 318.90,146.93 319.15,146.93 319.40,146.93 319.65,146.93 319.90,146.93 320.15,146.93 320.40,146.93 320.65,146.93 320.90,146.93 321.15,146.93 321.40,146.93 321.65,146.93 321.90,146.93 322.15,146.93 322.40,146.93 322.65,146.93 322.90,146.93 323.15,146.93 323.40,146.93 323.65,146.93 323.90,146.93 324.15,146.93 324.40,146.93 324.65,146.93 324.90,146.93 325.15,146.93 325.40,146.93 325.65,146.93 325.90,146.93 326.15,146.93 326.40,146.93 326.65,146.93 326.90,146.93 327.15,146.93 327.40,146.93 327.65,146.93 327.90,146.93 328.15,146.93 328.40,146.93 328.65,146.93 328.90,146.93 329.15,146.93 329.40,146.93 329.65,146.92 329.90,146.92 330.15,146.91 330.40,146.90 330.65,146.88 330.90,146.85 331.15,146.81 331.40,146.74 331.65,146.65 331.90,146.51 332.15,146.32 332.40,146.05 332.65,145.69 332.90,145.21 333.15,144.59 333.40,143.79 333.65,142.77 333.90,141.49 334.15,139.88 334.40,137.84 334.65,135.27 334.90,132.05 335.15,128.11 335.40,123.49 335.65,118.39 335.90,113.20 336.15,108.45 336.40,104.70 336.65,102.37 336.90,101.63 337.15,102.34 337.40,104.13 337.65,106.54 337.90,109.17 338.15,111.75 338.40,114.18 338.65,116.46 338.90,118.65 339.15,120.80 339.40,122.95 339.65,125.10 339.90,127.22 340.15,129.30 340.40,131.28 340.65,133.15 340.90,134.89 341.15,136.47 341.40,137.89 341.65,139.16 341.90,140.27 342.15,141.25 342.40,142.10 342.65,142.83 342.90,143.45 343.15,143.99 343.40,144.44 343.65,144.83 343.90,145.16 344.15,145.44 344.40,145.67 344.65,145.87 344.90,146.03 345.15,146.17 345.40,146.29 345.65,146.39 345.90,146.48 346.15,146.55 346.40,146.60 346.65,146.65 346.90,146.69 347.15,146.71 347.40,146.72 347.65,146.72 347.90,146.70 348.15,146.66 348.40,146.58 348.65,146.46 348.90,146.28 349.15,146.02 349.40,145.67 349.65,145.18 349.90,144.55 350.15,143.71 350.40,142.65 350.65,141.30 350.90,139.61 351.15,137.47 351.40,134.76 351.65,131.35 351.90,127.12 352.15,122.01 352.40,116.15 352.65,109.87 352.90,103.72 353.15,98.38 353.40,94.49 353.65,92.44 353.90,92.28 354.15,93.72 354.40,96.26 354.65,99.33 354.90,102.52 355.15,105.58 355.40,108.44 355.65,111.14 355.90,113.76 356.15,116.36 356.40,118.96 356.65,121.55 356.90,124.11 357.15,126.58 357.40,128.93 357.65,131.12 357.90,133.15 358.15,134.98 358.40,136.63 358.65,138.09 358.90,139.37 359.15,140.49 359.40,141.45 359.65,142.28 359.90,143.00 360.15,143.60 360.40,144.12 360.65,144.56 360.90,144.93 361.15,145.24 361.40,145.51 361.65,145.73 361.90,145.92 362.15,146.08 362.40,146.21 362.65,146.32 362.90,146.42 363.15,146.50 363.40,146.57 363.65,146.62 363.90,146.67 364.15,146.71 364.40,146.74 364.65,146.77 364.90,146.79 365.15,146.80 365.40,146.81 365.65,146.80 365.90,146.79 366.15,146.77 366.40,146.74 366.65,146.69 366.90,146.61 367.15,146.50 367.40,146.36 367.65,146.18 367.90,145.93 368.15,145.62 368.40,145.23 368.65,144.74 368.90,144.15 369.15,143.42 369.40,142.56 369.65,141.54 369.90,140.33 370.15,138.93 370.40,137.30 370.65,135.43 370.90,133.29 371.15,130.88 371.40,128.22 371.65,125.36 371.90,122.39 372.15,119.45 372.40,116.68 372.65,114.22 372.90,112.20 373.15,110.66 373.40,109.61 373.65,109.00 373.90,108.75 374.15,108.77 374.40,109.00 374.65,109.38 374.90,109.91 375.15,110.59 375.40,111.41 375.65,112.38 375.90,113.50 376.15,114.75 376.40,116.11 376.65,117.57 376.90,119.09 377.15,120.64 377.40,122.21 377.65,123.76 377.90,125.29 378.15,126.77 378.40,128.20 378.65,129.57 378.90,130.86 379.15,132.08 379.40,133.22 379.65,134.29 379.90,135.28 380.15,136.21 380.40,137.06 380.65,137.85 380.90,138.59 381.15,139.26 381.40,139.88 381.65,140.45 381.90,140.97 382.15,141.46 382.40,141.90 382.65,142.31 382.90,142.69 383.15,143.03 383.40,143.35 383.65,143.64 383.90,143.91 384.15,144.15 384.40,144.38 384.65,144.58 384.90,144.78 385.15,144.95 385.40,145.11 385.65,145.26 385.90,145.39 386.15,145.52 386.40,145.63 386.65,145.74 386.90,145.84 387.15,145.92 387.40,146.01 387.65,146.08 387.90,146.15 388.15,146.21 388.40,146.27 388.65,146.32 388.90,146.37 389.15,146.41 389.40,146.44 389.65,146.47 389.90,146.48 390.15,146.48 390.40,146.46 390.65,146.42 390.90,146.34 391.15,146.21 391.40,146.02 391.65,145.74 391.90,145.37 392.15,144.87 392.40,144.21 392.65,143.36 392.90,142.28 393.15,140.91 393.40,139.19 393.65,137.01 393.90,134.25 394.15,130.81 394.40,126.63 394.65,121.77 394.90,116.49 395.15,111.21 395.40,106.50 395.65,102.92 395.90,100.86 396.15,100.42 396.40,101.41 396.65,103.41 396.90,105.97 397.15,108.68 397.40,111.30 397.65,113.77 397.90,116.08 398.15,118.32 398.40,120.53 398.65,122.73 398.90,124.94 399.15,127.12 399.40,129.23 399.65,131.25 399.90,133.14 400.15,134.89 400.40,136.48 400.65,137.91 400.90,139.18 401.15,140.30 401.40,141.27 401.65,142.12 401.90,142.85 402.15,143.47 402.40,144.00 402.65,144.46 402.90,144.84 403.15,145.17 403.40,145.44 403.65,145.68 403.90,145.87 404.15,146.04 404.40,146.18 404.65,146.30 404.90,146.40 405.15,146.48 405.40,146.55 405.65,146.61 405.90,146.66 406.15,146.70 406.40,146.74 406.65,146.77 406.90,146.79 407.15,146.81 407.40,146.83 407.65,146.85 407.90,146.86 408.15,146.87 408.40,146.88 408.65,146.89 408.90,146.89 409.15,146.90 409.40,146.90 409.65,146.91 409.90,146.91 410.15,146.91 410.40,146.92 410.65,146.92 410.90,146.92 411.15,146.92 411.40,146.92 411.65,146.92 411.90,146.91 412.15,146.90 412.40,146.89 412.65,146.86 412.90,146.83 413.15,146.77 413.40,146.69 413.65,146.56 413.90,146.39 414.15,146.15 414.40,145.81 414.65,145.37 414.90,144.78 415.15,144.02 415.40,143.04 415.65,141.81 415.90,140.26 416.15,138.31 416.40,135.84 416.65,132.73 416.90,128.86 417.15,124.20 417.40,118.85 417.65,113.12 417.90,107.51 418.15,102.64 418.40,99.08 418.65,97.21 418.90,97.07 419.15,98.39 419.40,100.70 419.65,103.50 419.90,106.41 420.15,109.20 420.40,111.81 420.65,114.27 420.90,116.66 421.15,119.04 421.40,121.41 421.65,123.78 421.90,126.11 422.15,128.36 422.40,130.50 422.65,132.51 422.90,134.35 423.15,136.03 423.40,137.53 423.65,138.86 423.90,140.03 424.15,141.05 424.40,141.93 424.65,142.69 424.90,143.34 425.15,143.89 425.40,144.36 425.65,144.76 425.90,145.10 426.15,145.39 426.40,145.63 426.65,145.83 426.90,146.01 427.15,146.15 427.40,146.27 427.65,146.38 427.90,146.46 428.15,146.54 428.40,146.60 428.65,146.65 428.90,146.70 429.15,146.73 429.40,146.76 429.65,146.79 429.90,146.81 430.15,146.83 430.40,146.85 430.65,146.86 430.90,146.87 431.15,146.88 431.40,146.89 431.65,146.89 431.90,146.89 432.15,146.89 432.40,146.89 432.65,146.88 432.90,146.86 433.15,146.84 433.40,146.79 433.65,146.73 433.90,146.63 434.15,146.49 434.40,146.29 434.65,146.01 434.90,145.65 435.15,145.16 435.40,144.52 435.65,143.71 435.90,142.68 436.15,141.38 436.40,139.75 436.65,137.69 436.90,135.08 437.15,131.83 437.40,127.89 437.65,123.31 437.90,118.32 438.15,113.34 438.40,108.90 438.65,105.53 438.90,103.58 439.15,103.16 439.40,104.09 439.65,105.98 439.90,108.38 440.15,110.93 440.40,113.40 440.65,115.72 440.90,117.90 441.15,120.00 441.40,122.08 441.65,124.16 441.90,126.23 442.15,128.28 442.40,130.27 442.65,132.17 442.90,133.96 443.15,135.60 443.40,137.10 443.65,138.45 443.90,139.64 444.15,140.69 444.40,141.61 444.65,142.41 444.90,143.09 445.15,143.68 445.40,144.18 445.65,144.61 445.90,144.97 446.15,145.27 446.40,145.53 446.65,145.75 446.90,145.94 447.15,146.09 447.40,146.22 447.65,146.34 447.90,146.43 448.15,146.51 448.40,146.57 448.65,146.63 448.90,146.68 449.15,146.72 449.40,146.75 449.65,146.78 449.90,146.80 450.15,146.82 450.40,146.84 450.65,146.85 450.90,146.86 451.15,146.87 451.40,146.87 451.65,146.86 451.90,146.85 452.15,146.83 452.40,146.79 452.65,146.73 452.90,146.64 453.15,146.50 453.40,146.31 453.65,146.04 453.90,145.68 454.15,145.19 454.40,144.56 454.65,143.74 454.90,142.70 455.15,141.38 455.40,139.72 455.65,137.63 455.90,134.99 456.15,131.68 456.40,127.61 456.65,122.78 456.90,117.37 457.15,111.76 457.40,106.51 457.65,102.22 457.90,99.39 458.15,98.26 458.40,98.73 458.65,100.46 458.90,102.96 459.15,105.77 459.40,108.57 459.65,111.22 459.90,113.70 460.15,116.06 460.40,118.38 460.65,120.69 460.90,123.00 461.15,125.29 461.40,127.54 461.65,129.69 461.90,131.73 462.15,133.62 462.40,135.35 462.65,136.92 462.90,138.31 463.15,139.55 463.40,140.62 463.65,141.56 463.90,142.37 464.15,143.07 464.40,143.66 464.65,144.17 464.90,144.59 465.15,144.96 465.40,145.27 465.65,145.53 465.90,145.75 466.15,145.93 466.40,146.09 466.65,146.22 466.90,146.33 467.15,146.43 467.40,146.51 467.65,146.57 467.90,146.63 468.15,146.68 468.40,146.72 468.65,146.75 468.90,146.78 469.15,146.80 469.40,146.82 469.65,146.84 469.90,146.85 470.15,146.87 470.40,146.88 470.65,146.88 470.90,146.89 471.15,146.90 471.40,146.90 471.65,146.91 471.90,146.91 472.15,146.91 472.40,146.92 472.65,146.92 472.90,146.92 473.15,146.92 473.40,146.91 473.65,146.91 473.90,146.90 474.15,146.89 474.40,146.86 474.65,146.83 474.90,146.77 475.15,146.69 475.40,146.57 475.65,146.41 475.90,146.17 476.15,145.86 476.40,145.43 476.65,144.88 476.90,144.16 477.15,143.24 477.40,142.08 477.65,140.62 477.90,138.78 478.15,136.46 478.40,133.54 478.65,129.92 478.90,125.60 479.15,120.70 479.40,115.53 479.65,110.58 479.90,106.41 480.15,103.50 480.40,102.14 480.65,102.30 480.90,103.70 481.15,105.89 481.40,108.46 481.65,111.06 481.90,113.53 482.15,115.84 482.40,118.04 482.65,120.18 482.90,122.31 483.15,124.44 483.40,126.56 483.65,128.64 483.90,130.65 484.15,132.55 484.40,134.32 484.65,135.95 484.90,137.42 485.15,138.74 485.40,139.91 485.65,140.93 485.90,141.82 486.15,142.59 486.40,143.25 486.65,143.81 486.90,144.29 487.15,144.70 487.40,145.05 487.65,145.34 487.90,145.59 488.15,145.80 488.40,145.98 488.65,146.13 488.90,146.25 489.15,146.36 489.40,146.45 489.65,146.53 489.90,146.59 490.15,146.64 490.40,146.69 490.65,146.73 490.90,146.76 491.15,146.79 491.40,146.81 491.65,146.83 491.90,146.84 492.15,146.86 492.40,146.87 492.65,146.88 492.90,146.89 493.15,146.89 493.40,146.90 493.65,146.90 493.90,146.91 494.15,146.91 494.40,146.91 494.65,146.92 494.90,146.92 495.15,146.92 495.40,146.92 495.65,146.92 495.90,146.92 496.15,146.93 496.40,146.93 496.65,146.93 496.90,146.93 497.15,146.93 497.40,146.93 497.65,146.93 497.90,146.93 498.15,146.93 498.40,146.93 498.65,146.93 498.90,146.93 499.15,146.93 499.40,146.93 499.65,146.93 499.90,146.93 500.15,146.93 500.40,146.93 500.65,146.93 500.90,146.93 501.15,146.93 501.40,146.93 501.65,146.93 501.90,146.93 502.15,146.93 502.40,146.93 502.65,146.93 502.90,146.93 503.15,146.93 503.40,146.93 503.65,146.93 503.90,146.93 504.15,146.93 504.40,146.93 504.65,146.93 504.90,146.93 505.15,146.93 505.40,146.93 505.65,146.93 505.90,146.93 506.15,146.93 506.40,146.93 506.65,146.93 506.90,146.93 507.15,146.93 507.40,146.93 507.65,146.93 507.90,146.93 508.15,146.93 508.40,146.93 508.65,146.93 508.90,146.93 509.15,146.93 509.40,146.93 509.65,146.93 509.90,146.93 510.15,146.93 510.40,146.93 510.65,146.93 510.90,146.93 511.15,146.93 511.40,146.93 511.65,146.93 511.90,146.93 512.15,146.93 512.40,146.93 512.65,146.93 512.90,146.93 513.15,146.93 513.40,146.93 513.65,146.93 513.90,146.93 514.15,146.93 514.40,146.93 514.65,146.93 514.90,146.93 515.15,146.93 515.40,146.93 515.65,146.93 515.90,146.93 516.15,146.93 516.40,146.93 516.65,146.93 516.90,146.93 517.15,146.93 517.40,146.93 517.65,146.93 517.90,146.93 518.15,146.93 518.40,146.93 518.65,146.93 518.90,146.93 519.15,146.93 519.40,146.93 519.65,146.93 519.90,146.93 520.15,146.93 520.40,146.93 520.65,146.93 520.90,146.93 521.15,146.93 521.40,146.93 521.65,146.93 521.90,146.93 522.15,146.93 522.40,146.93 522.65,146.93 522.90,146.93 523.15,146.93 523.40,146.93 523.65,146.93 523.90,146.93 524.15,146.93 524.40,146.93 524.65,146.93 524.90,146.93 525.15,146.93 525.40,146.93 525.65,146.93 525.90,146.93 526.15,146.93 526.40,146.93 526.65,146.93 526.90,146.93 527.15,146.93 527.40,146.93 527.65,146.93 527.90,146.93 528.15,146.93 528.40,146.93 528.65,146.93 528.90,146.93 529.15,146.93 529.40,146.93 529.65,146.93 529.90,146.93 530.15,146.93 530.40,146.93"/>
<polyline fill="none" stroke="#1a9bf2" stroke-width="1.45" stroke-linejoin="round" points="27.00,208.20 27.25,208.20 27.50,208.20 27.75,208.20 28.00,208.20 28.25,208.20 28.50,208.20 28.75,208.20 29.00,208.20 29.25,208.20 29.50,208.20 29.75,208.20 30.00,208.20 30.25,208.20 30.50,208.20 30.75,208.20 31.00,208.20 31.25,208.20 31.50,208.20 31.75,208.20 32.00,208.20 32.25,208.20 32.50,208.20 32.75,208.20 33.00,208.20 33.25,208.20 33.50,208.20 33.75,208.20 34.00,208.20 34.25,208.20 34.50,208.20 34.75,208.20 35.00,208.20 35.25,208.20 35.50,208.20 35.75,208.20 36.00,208.20 36.25,208.20 36.50,208.20 36.75,208.20 37.00,208.20 37.25,208.20 37.50,208.20 37.75,208.20 38.00,208.20 38.25,208.20 38.50,208.20 38.75,208.20 39.00,208.20 39.25,208.20 39.50,208.20 39.75,208.20 40.00,208.20 40.25,208.20 40.50,208.20 40.75,208.20 41.00,208.20 41.25,208.20 41.50,208.20 41.75,208.20 42.00,208.20 42.25,208.20 42.50,208.20 42.75,208.20 43.00,208.20 43.25,208.20 43.50,208.20 43.75,208.20 44.00,208.20 44.25,208.20 44.50,208.20 44.75,208.20 45.00,208.20 45.25,208.20 45.50,208.20 45.75,208.20 46.00,208.20 46.25,208.20 46.50,208.20 46.75,208.20 47.00,208.20 47.25,208.20 47.50,208.20 47.75,208.20 48.00,208.20 48.25,208.20 48.50,208.20 48.75,208.20 49.00,208.20 49.25,208.20 49.50,208.20 49.75,208.20 50.00,208.20 50.25,208.20 50.50,208.20 50.75,208.20 51.00,208.20 51.25,208.20 51.50,208.20 51.75,208.20 52.00,208.20 52.25,208.20 52.50,208.20 52.75,208.20 53.00,208.20 53.25,208.20 53.50,208.20 53.75,208.20 54.00,208.20 54.25,208.20 54.50,208.20 54.75,208.20 55.00,208.20 55.25,208.20 55.50,208.20 55.75,208.20 56.00,208.20 56.25,208.20 56.50,208.20 56.75,208.20 57.00,208.20 57.25,208.20 57.50,208.20 57.75,208.20 58.00,208.20 58.25,208.20 58.50,208.20 58.75,208.20 59.00,208.20 59.25,208.20 59.50,208.15 59.75,207.85 60.00,206.76 60.25,204.30 60.50,200.59 60.75,196.26 61.00,191.77 61.25,187.25 61.50,182.72 61.75,178.18 62.00,173.62 62.25,169.09 62.50,165.02 62.75,162.63 63.00,163.40 63.25,167.09 63.50,171.77 63.75,175.89 64.00,178.94 64.25,180.88 64.50,181.73 64.75,181.53 65.00,180.33 65.25,178.20 65.50,175.27 65.75,171.69 66.00,167.67 66.25,163.47 66.50,159.36 66.75,155.62 67.00,152.53 67.25,150.32 67.50,149.16 67.75,149.14 68.00,150.26 68.25,152.45 68.50,155.54 68.75,159.35 69.00,163.64 69.25,168.16 69.50,172.71 69.75,177.09 70.00,181.17 70.25,184.86 70.50,188.10 70.75,190.89 71.00,193.24 71.25,195.21 71.50,196.84 71.75,198.18 72.00,199.29 72.25,200.22 72.50,201.00 72.75,201.67 73.00,202.24 73.25,202.75 73.50,203.20 73.75,203.60 74.00,203.96 74.25,204.27 74.50,204.54 74.75,204.75 75.00,204.89 75.25,204.94 75.50,204.86 75.75,204.60 76.00,204.13 76.25,203.40 76.50,202.36 76.75,200.97 77.00,199.20 77.25,197.04 77.50,194.48 77.75,191.54 78.00,188.26 78.25,184.70 78.50,180.93 78.75,177.06 79.00,173.24 79.25,169.62 79.50,166.38 79.75,163.70 80.00,161.71 80.25,160.52 80.50,160.17 80.75,160.61 81.00,161.75 81.25,163.47 81.50,165.60 81.75,167.99 82.00,170.50 82.25,173.02 82.50,175.49 82.75,177.85 83.00,180.07 83.25,182.15 83.50,184.08 83.75,185.88 84.00,187.54 84.25,189.07 84.50,190.49 84.75,191.81 85.00,193.02 85.25,194.15 85.50,195.19 85.75,196.15 86.00,197.04 86.25,197.86 86.50,198.62 86.75,199.32 87.00,199.97 87.25,200.57 87.50,201.12 87.75,201.64 88.00,202.11 88.25,202.55 88.50,202.96 88.75,203.33 89.00,203.68 89.25,204.00 89.50,204.29 89.75,204.57 90.00,204.82 90.25,205.05 90.50,205.27 90.75,205.47 91.00,205.65 91.25,205.82 91.50,205.98 91.75,206.13 92.00,206.26 92.25,206.39 92.50,206.50 92.75,206.61 93.00,206.70 93.25,206.79 93.50,206.88 93.75,206.95 94.00,207.03 94.25,207.09 94.50,207.15 94.75,207.21 95.00,207.26 95.25,207.31 95.50,207.35 95.75,207.39 96.00,207.43 96.25,207.46 96.50,207.49 96.75,207.52 97.00,207.55 97.25,207.57 97.50,207.59 97.75,207.61 98.00,207.62 98.25,207.63 98.50,207.62 98.75,207.58 99.00,207.51 99.25,207.38 99.50,207.16 99.75,206.81 100.00,206.29 100.25,205.56 100.50,204.57 100.75,203.28 101.00,201.65 101.25,199.68 101.50,197.34 101.75,194.64 102.00,191.62 102.25,188.32 102.50,184.80 102.75,181.15 103.00,177.49 103.25,173.96 103.50,170.73 103.75,167.96 104.00,165.79 104.25,164.34 104.50,163.66 104.75,163.75 105.00,164.53 105.25,165.91 105.50,167.73 105.75,169.86 106.00,172.14 106.25,174.48 106.50,176.79 106.75,179.02 107.00,181.13 107.25,183.11 107.50,184.95 107.75,186.66 108.00,188.25 108.25,189.71 108.50,191.07 108.75,192.33 109.00,193.49 109.25,194.56 109.50,195.55 109.75,196.47 110.00,197.32 110.25,198.11 110.50,198.83 110.75,199.50 111.00,200.12 111.25,200.70 111.50,201.23 111.75,201.72 112.00,202.17 112.25,202.59 112.50,202.98 112.75,203.34 113.00,203.67 113.25,203.97 113.50,204.26 113.75,204.52 114.00,204.76 114.25,204.98 114.50,205.19 114.75,205.38 115.00,205.56 115.25,205.72 115.50,205.87 115.75,206.01 116.00,206.14 116.25,206.26 116.50,206.37 116.75,206.47 117.00,206.56 117.25,206.65 117.50,206.73 117.75,206.80 118.00,206.87 118.25,206.93 118.50,206.99 118.75,207.04 119.00,207.09 119.25,207.14 119.50,207.18 119.75,207.22 120.00,207.25 120.25,207.28 120.50,207.31 120.75,207.34 121.00,207.37 121.25,207.39 121.50,207.41 121.75,207.43 122.00,207.45 122.25,207.46 122.50,207.47 122.75,207.47 123.00,207.45 123.25,207.40 123.50,207.30 123.75,207.14 124.00,206.86 124.25,206.43 124.50,205.80 124.75,204.90 125.00,203.69 125.25,202.12 125.50,200.13 125.75,197.72 126.00,194.86 126.25,191.58 126.50,187.89 126.75,183.86 127.00,179.56 127.25,175.11 127.50,170.65 127.75,166.35 128.00,162.41 128.25,159.02 128.50,156.38 128.75,154.61 129.00,153.78 129.25,153.88 129.50,154.84 129.75,156.52 130.00,158.74 130.25,161.33 130.50,164.12 130.75,166.97 131.00,169.79 131.25,172.50 131.50,175.08 131.75,177.49 132.00,179.74 132.25,181.82 132.50,183.76 132.75,185.55 133.00,187.20 133.25,188.73 133.50,190.15 133.75,191.46 134.00,192.67 134.25,193.79 134.50,194.83 134.75,195.78 135.00,196.67 135.25,197.49 135.50,198.24 135.75,198.94 136.00,199.59 136.25,200.19 136.50,200.74 136.75,201.25 137.00,201.73 137.25,202.16 137.50,202.57 137.75,202.94 138.00,203.29 138.25,203.61 138.50,203.90 138.75,204.18 139.00,204.43 139.25,204.66 139.50,204.88 139.75,205.08 140.00,205.26 140.25,205.43 140.50,205.59 140.75,205.73 141.00,205.87 141.25,205.99 141.50,206.10 141.75,206.21 142.00,206.31 142.25,206.40 142.50,206.48 142.75,206.56 143.00,206.63 143.25,206.69 143.50,206.75 143.75,206.81 144.00,206.86 144.25,206.91 144.50,206.95 144.75,206.99 145.00,207.03 145.25,207.06 145.50,207.09 145.75,207.12 146.00,207.14 146.25,207.15 146.50,207.15 146.75,207.12 147.00,207.05 147.25,206.92 147.50,206.69 147.75,206.32 148.00,205.76 148.25,204.95 148.50,203.83 148.75,202.35 149.00,200.46 149.25,198.13 149.50,195.35 149.75,192.11 150.00,188.44 150.25,184.38 150.50,180.01 150.75,175.43 151.00,170.77 151.25,166.20 151.50,161.93 151.75,158.15 152.00,155.07 152.25,152.85 152.50,151.60 152.75,151.32 153.00,151.99 153.25,153.45 153.50,155.56 153.75,158.13 154.00,160.97 154.25,163.92 154.50,166.88 154.75,169.76 155.00,172.50 155.25,175.08 155.50,177.48 155.75,179.72 156.00,181.80 156.25,183.72 156.50,185.50 156.75,187.15 157.00,188.67 157.25,190.07 157.50,191.37 157.75,192.58 158.00,193.69 158.25,194.72 158.50,195.67 158.75,196.55 159.00,197.36 159.25,198.11 159.50,198.81 159.75,199.45 160.00,200.05 160.25,200.60 160.50,201.10 160.75,201.57 161.00,202.01 161.25,202.41 161.50,202.78 161.75,203.12 162.00,203.44 162.25,203.73 162.50,204.00 162.75,204.26 163.00,204.49 163.25,204.70 163.50,204.90 163.75,205.08 164.00,205.25 164.25,205.41 164.50,205.55 164.75,205.68 165.00,205.81 165.25,205.92 165.50,206.02 165.75,206.12 166.00,206.21 166.25,206.29 166.50,206.37 166.75,206.44 167.00,206.50 167.25,206.56 167.50,206.60 167.75,206.62 168.00,206.63 168.25,206.59 168.50,206.48 168.75,206.29 169.00,205.97 169.25,205.48 169.50,204.76 169.75,203.77 170.00,202.46 170.25,200.80 170.50,198.76 170.75,196.34 171.00,193.52 171.25,190.35 171.50,186.86 171.75,183.12 172.00,179.21 172.25,175.27 172.50,171.44 172.75,167.89 173.00,164.80 173.25,162.33 173.50,160.61 173.75,159.71 174.00,159.65 174.25,160.36 174.50,161.73 174.75,163.62 175.00,165.85 175.25,168.29 175.50,170.81 175.75,173.31 176.00,175.74 176.25,178.04 176.50,180.20 176.75,182.22 177.00,184.09 177.25,185.82 177.50,187.43 177.75,188.92 178.00,190.29 178.25,191.56 178.50,192.74 178.75,193.83 179.00,194.83 179.25,195.76 179.50,196.62 179.75,197.42 180.00,198.15 180.25,198.83 180.50,199.46 180.75,200.04 181.00,200.58 181.25,201.08 181.50,201.53 181.75,201.96 182.00,202.35 182.25,202.71 182.50,203.05 182.75,203.36 183.00,203.65 183.25,203.91 183.50,204.16 183.75,204.38 184.00,204.59 184.25,204.78 184.50,204.96 184.75,205.13 185.00,205.28 185.25,205.42 185.50,205.55 185.75,205.67 186.00,205.77 186.25,205.87 186.50,205.96 186.75,206.03 187.00,206.09 187.25,206.13 187.50,206.16 187.75,206.15 188.00,206.11 188.25,206.02 188.50,205.87 188.75,205.63 189.00,205.30 189.25,204.84 189.50,204.23 189.75,203.43 190.00,202.40 190.25,201.12 190.50,199.56 190.75,197.69 191.00,195.49 191.25,192.95 191.50,190.10 191.75,186.95 192.00,183.55 192.25,179.98 192.50,176.31 192.75,172.65 193.00,169.11 193.25,165.81 193.50,162.86 193.75,160.39 194.00,158.47 194.25,157.18 194.50,156.56 194.75,156.63 195.00,157.37 195.25,158.74 195.50,160.65 195.75,163.03 196.00,165.77 196.25,168.75 196.50,171.88 196.75,175.05 197.00,178.17 197.25,181.17 197.50,183.99 197.75,186.60 198.00,188.96 198.25,191.08 198.50,192.95 198.75,194.58 199.00,196.01 199.25,197.24 199.50,198.30 199.75,199.21 200.00,200.00 200.25,200.69 200.50,201.28 200.75,201.81 201.00,202.27 201.25,202.68 201.50,203.05 201.75,203.38 202.00,203.68 202.25,203.95 202.50,204.20 202.75,204.43 203.00,204.64 203.25,204.83 203.50,205.00 203.75,205.16 204.00,205.31 204.25,205.45 204.50,205.57 204.75,205.68 205.00,205.79 205.25,205.89 205.50,205.97 205.75,206.06 206.00,206.13 206.25,206.20 206.50,206.26 206.75,206.32 207.00,206.37 207.25,206.42 207.50,206.46 207.75,206.50 208.00,206.54 208.25,206.58 208.50,206.61 208.75,206.64 209.00,206.66 209.25,206.69 209.50,206.71 209.75,206.73 210.00,206.75 210.25,206.76 210.50,206.78 210.75,206.79 211.00,206.80 211.25,206.82 211.50,206.83 211.75,206.83 212.00,206.84 212.25,206.85 212.50,206.86 212.75,206.86 213.00,206.87 213.25,206.87 213.50,206.88 213.75,206.88 214.00,206.88 214.25,206.89 214.50,206.89 214.75,206.89 215.00,206.89 215.25,206.90 215.50,206.90 215.75,206.90 216.00,206.90 216.25,206.90 216.50,206.90 216.75,206.90 217.00,206.90 217.25,206.90 217.50,206.90 217.75,206.90 218.00,206.90 218.25,206.90 218.50,206.90 218.75,206.89 219.00,206.89 219.25,206.89 219.50,206.89 219.75,206.89 220.00,206.89 220.25,206.89 220.50,206.89 220.75,206.88 221.00,206.88 221.25,206.88 221.50,206.88 221.75,206.88 222.00,206.88 222.25,206.87 222.50,206.87 222.75,206.87 223.00,206.87 223.25,206.87 223.50,206.87 223.75,206.86 224.00,206.86 224.25,206.86 224.50,206.86 224.75,206.86 225.00,206.85 225.25,206.85 225.50,206.85 225.75,206.85 226.00,206.85 226.25,206.85 226.50,206.84 226.75,206.84 227.00,206.84 227.25,206.84 227.50,206.84 227.75,206.83 228.00,206.83 228.25,206.83 228.50,206.83 228.75,206.83 229.00,206.82 229.25,206.82 229.50,206.82 229.75,206.82 230.00,206.82 230.25,206.81 230.50,206.81 230.75,206.81 231.00,206.81 231.25,206.81 231.50,206.80 231.75,206.80 232.00,206.80 232.25,206.80 232.50,206.80 232.75,206.79 233.00,206.79 233.25,206.79 233.50,206.79 233.75,206.79 234.00,206.78 234.25,206.78 234.50,206.78 234.75,206.78 235.00,206.78 235.25,206.77 235.50,206.77 235.75,206.77 236.00,206.77 236.25,206.76 236.50,206.76 236.75,206.76 237.00,206.76 237.25,206.76 237.50,206.75 237.75,206.75 238.00,206.75 238.25,206.75 238.50,206.75 238.75,206.74 239.00,206.74 239.25,206.74 239.50,206.74 239.75,206.74 240.00,206.73 240.25,206.73 240.50,206.73 240.75,206.73 241.00,206.73 241.25,206.72 241.50,206.72 241.75,206.72 242.00,206.72 242.25,206.72 242.50,206.71 242.75,206.71 243.00,206.71 243.25,206.71 243.50,206.71 243.75,206.70 244.00,206.70 244.25,206.70 244.50,206.70 244.75,206.70 245.00,206.69 245.25,206.69 245.50,206.69 245.75,206.69 246.00,206.69 246.25,206.68 246.50,206.68 246.75,206.68 247.00,206.68 247.25,206.68 247.50,206.67 247.75,206.67 248.00,206.67 248.25,206.67 248.50,206.67 248.75,206.66 249.00,206.66 249.25,206.66 249.50,206.66 249.75,206.65 250.00,206.65 250.25,206.65 250.50,206.65 250.75,206.65 251.00,206.64 251.25,206.64 251.50,206.64 251.75,206.64 252.00,206.64 252.25,206.63 252.50,206.63 252.75,206.63 253.00,206.63 253.25,206.63 253.50,206.62 253.75,206.62 254.00,206.62 254.25,206.62 254.50,206.62 254.75,206.61 255.00,206.61 255.25,206.61 255.50,206.61"/>
<polyline fill="none" stroke="#1a9bf2" stroke-width="1.45" stroke-linejoin="round" points="302.65,208.00 302.90,208.00 303.15,208.00 303.40,208.00 303.65,208.00 303.90,208.00 304.15,208.00 304.40,208.00 304.65,208.00 304.90,208.00 305.15,208.00 305.40,208.00 305.65,208.00 305.90,208.00 306.15,208.00 306.40,208.00 306.65,208.00 306.90,208.00 307.15,208.00 307.40,208.00 307.65,208.00 307.90,208.00 308.15,208.00 308.40,208.00 308.65,208.00 308.90,208.00 309.15,208.00 309.40,208.00 309.65,208.00 309.90,208.00 310.15,208.00 310.40,208.00 310.65,208.00 310.90,208.00 311.15,208.00 311.40,208.00 311.65,208.00 311.90,208.00 312.15,208.00 312.40,208.00 312.65,208.00 312.90,208.00 313.15,208.00 313.40,208.00 313.65,208.00 313.90,208.00 314.15,208.00 314.40,208.00 314.65,208.00 314.90,208.00 315.15,208.00 315.40,208.00 315.65,208.00 315.90,208.00 316.15,208.00 316.40,208.00 316.65,208.00 316.90,208.00 317.15,208.00 317.40,208.00 317.65,208.00 317.90,208.00 318.15,208.00 318.40,208.00 318.65,208.00 318.90,208.00 319.15,208.00 319.40,208.00 319.65,208.00 319.90,208.00 320.15,208.00 320.40,208.00 320.65,208.00 320.90,208.00 321.15,208.00 321.40,208.00 321.65,208.00 321.90,208.00 322.15,208.00 322.40,208.00 322.65,208.00 322.90,208.00 323.15,208.00 323.40,208.00 323.65,208.00 323.90,208.00 324.15,208.00 324.40,208.00 324.65,208.00 324.90,208.00 325.15,208.00 325.40,208.00 325.65,208.00 325.90,208.00 326.15,208.00 326.40,208.00 326.65,208.00 326.90,208.00 327.15,208.00 327.40,208.00 327.65,208.00 327.90,208.00 328.15,208.00 328.40,208.00 328.65,208.00 328.90,208.00 329.15,208.00 329.40,208.00 329.65,207.99 329.90,207.99 330.15,207.98 330.40,207.97 330.65,207.95 330.90,207.92 331.15,207.88 331.40,207.81 331.65,207.72 331.90,207.58 332.15,207.39 332.40,207.12 332.65,206.76 332.90,206.28 333.15,205.66 333.40,204.86 333.65,203.84 333.90,202.56 334.15,200.95 334.40,198.91 334.65,196.34 334.90,193.12 335.15,189.18 335.40,184.56 335.65,179.46 335.90,174.27 336.15,169.52 336.40,165.77 336.65,163.44 336.90,162.70 337.15,163.41 337.40,165.20 337.65,167.61 337.90,170.24 338.15,172.82 338.40,175.25 338.65,177.53 338.90,179.72 339.15,181.87 339.40,184.02 339.65,186.17 339.90,188.29 340.15,190.37 340.40,192.35 340.65,194.22 340.90,195.96 341.15,197.54 341.40,198.96 341.65,200.23 341.90,201.34 342.15,202.32 342.40,203.17 342.65,203.90 342.90,204.52 343.15,205.06 343.40,205.51 343.65,205.90 343.90,206.23 344.15,206.51 344.40,206.74 344.65,206.94 344.90,207.10 345.15,207.24 345.40,207.36 345.65,207.46 345.90,207.55 346.15,207.62 346.40,207.67 346.65,207.72 346.90,207.76 347.15,207.78 347.40,207.79 347.65,207.79 347.90,207.77 348.15,207.73 348.40,207.65 348.65,207.53 348.90,207.35 349.15,207.09 349.40,206.74 349.65,206.25 349.90,205.62 350.15,204.78 350.40,203.72 350.65,202.37 350.90,200.68 351.15,198.54 351.40,195.83 351.65,192.42 351.90,188.19 352.15,183.08 352.40,177.22 352.65,170.94 352.90,164.79 353.15,159.45 353.40,155.56 353.65,153.51 353.90,153.35 354.15,154.79 354.40,157.33 354.65,160.40 354.90,163.59 355.15,166.65 355.40,169.51 355.65,172.21 355.90,174.83 356.15,177.43 356.40,180.03 356.65,182.62 356.90,185.18 357.15,187.65 357.40,190.00 357.65,192.19 357.90,194.22 358.15,196.05 358.40,197.70 358.65,199.16 358.90,200.44 359.15,201.56 359.40,202.52 359.65,203.35 359.90,204.07 360.15,204.67 360.40,205.19 360.65,205.63 360.90,206.00 361.15,206.31 361.40,206.58 361.65,206.80 361.90,206.99 362.15,207.15 362.40,207.28 362.65,207.39 362.90,207.49 363.15,207.57 363.40,207.64 363.65,207.69 363.90,207.74 364.15,207.78 364.40,207.81 364.65,207.84 364.90,207.86 365.15,207.87 365.40,207.88 365.65,207.87 365.90,207.86 366.15,207.84 366.40,207.81 366.65,207.76 366.90,207.68 367.15,207.57 367.40,207.43 367.65,207.25 367.90,207.00 368.15,206.69 368.40,206.30 368.65,205.81 368.90,205.22 369.15,204.49 369.40,203.63 369.65,202.61 369.90,201.40 370.15,200.00 370.40,198.37 370.65,196.50 370.90,194.36 371.15,191.95 371.40,189.29 371.65,186.43 371.90,183.46 372.15,180.52 372.40,177.75 372.65,175.29 372.90,173.27 373.15,171.73 373.40,170.68 373.65,170.07 373.90,169.82 374.15,169.84 374.40,170.07 374.65,170.45 374.90,170.98 375.15,171.66 375.40,172.48 375.65,173.45 375.90,174.57 376.15,175.82 376.40,177.18 376.65,178.64 376.90,180.16 377.15,181.71 377.40,183.28 377.65,184.83 377.90,186.36 378.15,187.84 378.40,189.27 378.65,190.64 378.90,191.93 379.15,193.15 379.40,194.29 379.65,195.36 379.90,196.35 380.15,197.28 380.40,198.13 380.65,198.92 380.90,199.66 381.15,200.33 381.40,200.95 381.65,201.52 381.90,202.04 382.15,202.53 382.40,202.97 382.65,203.38 382.90,203.76 383.15,204.10 383.40,204.42 383.65,204.71 383.90,204.98 384.15,205.22 384.40,205.45 384.65,205.65 384.90,205.85 385.15,206.02 385.40,206.18 385.65,206.33 385.90,206.46 386.15,206.59 386.40,206.70 386.65,206.81 386.90,206.91 387.15,206.99 387.40,207.08 387.65,207.15 387.90,207.22 388.15,207.28 388.40,207.34 388.65,207.39 388.90,207.44 389.15,207.48 389.40,207.51 389.65,207.54 389.90,207.55 390.15,207.55 390.40,207.53 390.65,207.49 390.90,207.41 391.15,207.28 391.40,207.09 391.65,206.81 391.90,206.44 392.15,205.94 392.40,205.28 392.65,204.43 392.90,203.35 393.15,201.98 393.40,200.26 393.65,198.08 393.90,195.32 394.15,191.88 394.40,187.70 394.65,182.84 394.90,177.56 395.15,172.28 395.40,167.57 395.65,163.99 395.90,161.93 396.15,161.49 396.40,162.48 396.65,164.48 396.90,167.04 397.15,169.75 397.40,172.37 397.65,174.84 397.90,177.15 398.15,179.39 398.40,181.60 398.65,183.80 398.90,186.01 399.15,188.19 399.40,190.30 399.65,192.32 399.90,194.21 400.15,195.96 400.40,197.55 400.65,198.98 400.90,200.25 401.15,201.37 401.40,202.34 401.65,203.19 401.90,203.92 402.15,204.54 402.40,205.07 402.65,205.53 402.90,205.91 403.15,206.24 403.40,206.51 403.65,206.75 403.90,206.94 404.15,207.11 404.40,207.25 404.65,207.37 404.90,207.47 405.15,207.55 405.40,207.62 405.65,207.68 405.90,207.73 406.15,207.77 406.40,207.81 406.65,207.84 406.90,207.86 407.15,207.88 407.40,207.90 407.65,207.92 407.90,207.93 408.15,207.94 408.40,207.95 408.65,207.96 408.90,207.96 409.15,207.97 409.40,207.97 409.65,207.98 409.90,207.98 410.15,207.98 410.40,207.99 410.65,207.99 410.90,207.99 411.15,207.99 411.40,207.99 411.65,207.99 411.90,207.98 412.15,207.97 412.40,207.96 412.65,207.93 412.90,207.90 413.15,207.84 413.40,207.76 413.65,207.63 413.90,207.46 414.15,207.22 414.40,206.88 414.65,206.44 414.90,205.85 415.15,205.09 415.40,204.11 415.65,202.88 415.90,201.33 416.15,199.38 416.40,196.91 416.65,193.80 416.90,189.93 417.15,185.27 417.40,179.92 417.65,174.19 417.90,168.58 418.15,163.71 418.40,160.15 418.65,158.28 418.90,158.14 419.15,159.46 419.40,161.77 419.65,164.57 419.90,167.48 420.15,170.27 420.40,172.88 420.65,175.34 420.90,177.73 421.15,180.11 421.40,182.48 421.65,184.85 421.90,187.18 422.15,189.43 422.40,191.57 422.65,193.58 422.90,195.42 423.15,197.10 423.40,198.60 423.65,199.93 423.90,201.10 424.15,202.12 424.40,203.00 424.65,203.76 424.90,204.41 425.15,204.96 425.40,205.43 425.65,205.83 425.90,206.17 426.15,206.46 426.40,206.70 426.65,206.90 426.90,207.08 427.15,207.22 427.40,207.34 427.65,207.45 427.90,207.53 428.15,207.61 428.40,207.67 428.65,207.72 428.90,207.77 429.15,207.80 429.40,207.83 429.65,207.86 429.90,207.88 430.15,207.90 430.40,207.92 430.65,207.93 430.90,207.94 431.15,207.95 431.40,207.96 431.65,207.96 431.90,207.96 432.15,207.96 432.40,207.96 432.65,207.95 432.90,207.93 433.15,207.91 433.40,207.86 433.65,207.80 433.90,207.70 434.15,207.56 434.40,207.36 434.65,207.08 434.90,206.72 435.15,206.23 435.40,205.59 435.65,204.78 435.90,203.75 436.15,202.45 436.40,200.82 436.65,198.76 436.90,196.15 437.15,192.90 437.40,188.96 437.65,184.38 437.90,179.39 438.15,174.41 438.40,169.97 438.65,166.60 438.90,164.65 439.15,164.23 439.40,165.16 439.65,167.05 439.90,169.45 440.15,172.00 440.40,174.47 440.65,176.79 440.90,178.97 441.15,181.07 441.40,183.15 441.65,185.23 441.90,187.30 442.15,189.35 442.40,191.34 442.65,193.24 442.90,195.03 443.15,196.67 443.40,198.17 443.65,199.52 443.90,200.71 444.15,201.76 444.40,202.68 444.65,203.48 444.90,204.16 445.15,204.75 445.40,205.25 445.65,205.68 445.90,206.04 446.15,206.34 446.40,206.60 446.65,206.82 446.90,207.01 447.15,207.16 447.40,207.29 447.65,207.41 447.90,207.50 448.15,207.58 448.40,207.64 448.65,207.70 448.90,207.75 449.15,207.79 449.40,207.82 449.65,207.85 449.90,207.87 450.15,207.89 450.40,207.91 450.65,207.92 450.90,207.93 451.15,207.94 451.40,207.94 451.65,207.93 451.90,207.92 452.15,207.90 452.40,207.86 452.65,207.80 452.90,207.71 453.15,207.57 453.40,207.38 453.65,207.11 453.90,206.75 454.15,206.26 454.40,205.63 454.65,204.81 454.90,203.77 455.15,202.45 455.40,200.79 455.65,198.70 455.90,196.06 456.15,192.75 456.40,188.68 456.65,183.85 456.90,178.44 457.15,172.83 457.40,167.58 457.65,163.29 457.90,160.46 458.15,159.33 458.40,159.80 458.65,161.53 458.90,164.03 459.15,166.84 459.40,169.64 459.65,172.29 459.90,174.77 460.15,177.13 460.40,179.45 460.65,181.76 460.90,184.07 461.15,186.36 461.40,188.61 461.65,190.76 461.90,192.80 462.15,194.69 462.40,196.42 462.65,197.99 462.90,199.38 463.15,200.62 463.40,201.69 463.65,202.63 463.90,203.44 464.15,204.14 464.40,204.73 464.65,205.24 464.90,205.66 465.15,206.03 465.40,206.34 465.65,206.60 465.90,206.82 466.15,207.00 466.40,207.16 466.65,207.29 466.90,207.40 467.15,207.50 467.40,207.58 467.65,207.64 467.90,207.70 468.15,207.75 468.40,207.79 468.65,207.82 468.90,207.85 469.15,207.87 469.40,207.89 469.65,207.91 469.90,207.92 470.15,207.94 470.40,207.95 470.65,207.95 470.90,207.96 471.15,207.97 471.40,207.97 471.65,207.98 471.90,207.98 472.15,207.98 472.40,207.99 472.65,207.99 472.90,207.99 473.15,207.99 473.40,207.98 473.65,207.98 473.90,207.97 474.15,207.96 474.40,207.93 474.65,207.90 474.90,207.84 475.15,207.76 475.40,207.64 475.65,207.48 475.90,207.24 476.15,206.93 476.40,206.50 476.65,205.95 476.90,205.23 477.15,204.31 477.40,203.15 477.65,201.69 477.90,199.85 478.15,197.53 478.40,194.61 478.65,190.99 478.90,186.67 479.15,181.77 479.40,176.60 479.65,171.65 479.90,167.48 480.15,164.57 480.40,163.21 480.65,163.37 480.90,164.77 481.15,166.96 481.40,169.53 481.65,172.13 481.90,174.60 482.15,176.91 482.40,179.11 482.65,181.25 482.90,183.38 483.15,185.51 483.40,187.63 483.65,189.71 483.90,191.72 484.15,193.62 484.40,195.39 484.65,197.02 484.90,198.49 485.15,199.81 485.40,200.98 485.65,202.00 485.90,202.89 486.15,203.66 486.40,204.32 486.65,204.88 486.90,205.36 487.15,205.77 487.40,206.12 487.65,206.41 487.90,206.66 488.15,206.87 488.40,207.05 488.65,207.20 488.90,207.32 489.15,207.43 489.40,207.52 489.65,207.60 489.90,207.66 490.15,207.71 490.40,207.76 490.65,207.80 490.90,207.83 491.15,207.86 491.40,207.88 491.65,207.90 491.90,207.91 492.15,207.93 492.40,207.94 492.65,207.95 492.90,207.96 493.15,207.96 493.40,207.97 493.65,207.97 493.90,207.98 494.15,207.98 494.40,207.98 494.65,207.99 494.90,207.99 495.15,207.99 495.40,207.99 495.65,207.99 495.90,207.99 496.15,208.00 496.40,208.00 496.65,208.00 496.90,208.00 497.15,208.00 497.40,208.00 497.65,208.00 497.90,208.00 498.15,208.00 498.40,208.00 498.65,208.00 498.90,208.00 499.15,208.00 499.40,208.00 499.65,208.00 499.90,208.00 500.15,208.00 500.40,208.00 500.65,208.00 500.90,208.00 501.15,208.00 501.40,208.00 501.65,208.00 501.90,208.00 502.15,208.00 502.40,208.00 502.65,208.00 502.90,208.00 503.15,208.00 503.40,208.00 503.65,208.00 503.90,208.00 504.15,208.00 504.40,208.00 504.65,208.00 504.90,208.00 505.15,208.00 505.40,208.00 505.65,208.00 505.90,208.00 506.15,208.00 506.40,208.00 506.65,208.00 506.90,208.00 507.15,208.00 507.40,208.00 507.65,208.00 507.90,208.00 508.15,208.00 508.40,208.00 508.65,208.00 508.90,208.00 509.15,208.00 509.40,208.00 509.65,208.00 509.90,208.00 510.15,208.00 510.40,208.00 510.65,208.00 510.90,208.00 511.15,208.00 511.40,208.00 511.65,208.00 511.90,208.00 512.15,208.00 512.40,208.00 512.65,208.00 512.90,208.00 513.15,208.00 513.40,208.00 513.65,208.00 513.90,208.00 514.15,208.00 514.40,208.00 514.65,208.00 514.90,208.00 515.15,208.00 515.40,208.00 515.65,208.00 515.90,208.00 516.15,208.00 516.40,208.00 516.65,208.00 516.90,208.00 517.15,208.00 517.40,208.00 517.65,208.00 517.90,208.00 518.15,208.00 518.40,208.00 518.65,208.00 518.90,208.00 519.15,208.00 519.40,208.00 519.65,208.00 519.90,208.00 520.15,208.00 520.40,208.00 520.65,208.00 520.90,208.00 521.15,208.00 521.40,208.00 521.65,208.00 521.90,208.00 522.15,208.00 522.40,208.00 522.65,208.00 522.90,208.00 523.15,208.00 523.40,208.00 523.65,208.00 523.90,208.00 524.15,208.00 524.40,208.00 524.65,208.00 524.90,208.00 525.15,208.00 525.40,208.00 525.65,208.00 525.90,208.00 526.15,208.00 526.40,208.00 526.65,208.00 526.90,208.00 527.15,208.00 527.40,208.00 527.65,208.00 527.90,208.00 528.15,208.00 528.40,208.00 528.65,208.00 528.90,208.00 529.15,208.00 529.40,208.00 529.65,208.00 529.90,208.00 530.15,208.00 530.40,208.00"/>
<polyline fill="none" stroke="#fa6464" stroke-width="1.45" stroke-linejoin="round" points="27.00,269.60 27.25,269.60 27.50,269.60 27.75,269.60 28.00,269.60 28.25,269.60 28.50,269.60 28.75,269.60 29.00,269.60 29.25,269.60 29.50,269.60 29.75,269.60 30.00,269.60 30.25,269.60 30.50,269.60 30.75,269.60 31.00,269.60 31.25,269.60 31.50,269.60 31.75,269.60 32.00,269.60 32.25,269.60 32.50,269.60 32.75,269.60 33.00,269.60 33.25,269.60 33.50,269.60 33.75,269.60 34.00,269.60 34.25,269.60 34.50,269.60 34.75,269.60 35.00,269.60 35.25,269.60 35.50,269.60 35.75,269.60 36.00,269.60 36.25,269.60 36.50,269.60 36.75,269.60 37.00,269.60 37.25,269.60 37.50,269.60 37.75,269.60 38.00,269.60 38.25,269.60 38.50,269.60 38.75,269.60 39.00,269.60 39.25,269.60 39.50,269.60 39.75,269.60 40.00,269.60 40.25,269.60 40.50,269.60 40.75,269.60 41.00,269.60 41.25,269.60 41.50,269.60 41.75,269.60 42.00,269.60 42.25,269.60 42.50,269.60 42.75,269.60 43.00,269.60 43.25,269.60 43.50,269.60 43.75,269.60 44.00,269.60 44.25,269.60 44.50,269.60 44.75,269.60 45.00,269.60 45.25,269.60 45.50,269.60 45.75,269.60 46.00,269.60 46.25,269.60 46.50,269.60 46.75,269.60 47.00,269.60 47.25,269.60 47.50,269.60 47.75,269.60 48.00,269.60 48.25,269.60 48.50,269.60 48.75,269.60 49.00,269.60 49.25,269.60 49.50,269.60 49.75,269.60 50.00,269.60 50.25,269.60 50.50,269.60 50.75,269.60 51.00,269.60 51.25,269.60 51.50,269.60 51.75,269.60 52.00,269.60 52.25,269.60 52.50,269.60 52.75,269.60 53.00,269.60 53.25,269.60 53.50,269.60 53.75,269.60 54.00,269.60 54.25,269.60 54.50,269.60 54.75,269.60 55.00,269.60 55.25,269.60 55.50,269.60 55.75,269.60 56.00,269.60 56.25,269.60 56.50,269.60 56.75,269.60 57.00,269.60 57.25,269.60 57.50,269.60 57.75,269.60 58.00,269.60 58.25,269.60 58.50,269.60 58.75,269.60 59.00,269.60 59.25,269.60 59.50,269.55 59.75,269.25 60.00,268.16 60.25,265.70 60.50,261.99 60.75,257.66 61.00,253.17 61.25,248.65 61.50,244.12 61.75,239.58 62.00,235.02 62.25,230.49 62.50,226.42 62.75,224.03 63.00,224.80 63.25,228.49 63.50,233.17 63.75,237.29 64.00,240.34 64.25,242.28 64.50,243.13 64.75,242.93 65.00,241.73 65.25,239.60 65.50,236.67 65.75,233.09 66.00,229.07 66.25,224.87 66.50,220.76 66.75,217.02 67.00,213.93 67.25,211.72 67.50,210.56 67.75,210.54 68.00,211.66 68.25,213.85 68.50,216.94 68.75,220.75 69.00,225.04 69.25,229.56 69.50,234.11 69.75,238.49 70.00,242.57 70.25,246.26 70.50,249.50 70.75,252.29 71.00,254.64 71.25,256.61 71.50,258.24 71.75,259.58 72.00,260.69 72.25,261.62 72.50,262.40 72.75,263.07 73.00,263.64 73.25,264.15 73.50,264.60 73.75,265.00 74.00,265.36 74.25,265.67 74.50,265.94 74.75,266.15 75.00,266.29 75.25,266.34 75.50,266.26 75.75,266.00 76.00,265.53 76.25,264.80 76.50,263.76 76.75,262.37 77.00,260.60 77.25,258.44 77.50,255.88 77.75,252.94 78.00,249.66 78.25,246.10 78.50,242.33 78.75,238.46 79.00,234.64 79.25,231.02 79.50,227.78 79.75,225.10 80.00,223.11 80.25,221.92 80.50,221.57 80.75,222.01 81.00,223.15 81.25,224.87 81.50,227.00 81.75,229.39 82.00,231.90 82.25,234.42 82.50,236.89 82.75,239.25 83.00,241.47 83.25,243.55 83.50,245.48 83.75,247.28 84.00,248.94 84.25,250.47 84.50,251.89 84.75,253.21 85.00,254.42 85.25,255.55 85.50,256.59 85.75,257.55 86.00,258.44 86.25,259.26 86.50,260.02 86.75,260.72 87.00,261.37 87.25,261.97 87.50,262.52 87.75,263.04 88.00,263.51 88.25,263.95 88.50,264.36 88.75,264.73 89.00,265.08 89.25,265.40 89.50,265.69 89.75,265.97 90.00,266.22 90.25,266.45 90.50,266.67 90.75,266.87 91.00,267.05 91.25,267.22 91.50,267.38 91.75,267.53 92.00,267.66 92.25,267.79 92.50,267.90 92.75,268.01 93.00,268.10 93.25,268.19 93.50,268.28 93.75,268.35 94.00,268.43 94.25,268.49 94.50,268.55 94.75,268.61 95.00,268.66 95.25,268.71 95.50,268.75 95.75,268.79 96.00,268.83 96.25,268.86 96.50,268.89 96.75,268.92 97.00,268.95 97.25,268.97 97.50,268.99 97.75,269.01 98.00,269.02 98.25,269.03 98.50,269.02 98.75,268.98 99.00,268.91 99.25,268.78 99.50,268.56 99.75,268.21 100.00,267.69 100.25,266.96 100.50,265.97 100.75,264.68 101.00,263.05 101.25,261.08 101.50,258.74 101.75,256.04 102.00,253.02 102.25,249.72 102.50,246.20 102.75,242.55 103.00,238.89 103.25,235.36 103.50,232.13 103.75,229.36 104.00,227.19 104.25,225.74 104.50,225.06 104.75,225.15 105.00,225.93 105.25,227.31 105.50,229.13 105.75,231.26 106.00,233.54 106.25,235.88 106.50,238.19 106.75,240.42 107.00,242.53 107.25,244.51 107.50,246.35 107.75,248.06 108.00,249.65 108.25,251.11 108.50,252.47 108.75,253.73 109.00,254.89 109.25,255.96 109.50,256.95 109.75,257.87 110.00,258.72 110.25,259.51 110.50,260.23 110.75,260.90 111.00,261.52 111.25,262.10 111.50,262.63 111.75,263.12 112.00,263.57 112.25,263.99 112.50,264.38 112.75,264.74 113.00,265.07 113.25,265.37 113.50,265.66 113.75,265.92 114.00,266.16 114.25,266.38 114.50,266.59 114.75,266.78 115.00,266.96 115.25,267.12 115.50,267.27 115.75,267.41 116.00,267.54 116.25,267.66 116.50,267.77 116.75,267.87 117.00,267.96 117.25,268.05 117.50,268.13 117.75,268.20 118.00,268.27 118.25,268.33 118.50,268.39 118.75,268.44 119.00,268.49 119.25,268.54 119.50,268.58 119.75,268.62 120.00,268.65 120.25,268.68 120.50,268.71 120.75,268.74 121.00,268.77 121.25,268.79 121.50,268.81 121.75,268.83 122.00,268.85 122.25,268.86 122.50,268.87 122.75,268.87 123.00,268.85 123.25,268.80 123.50,268.70 123.75,268.54 124.00,268.26 124.25,267.83 124.50,267.20 124.75,266.30 125.00,265.09 125.25,263.52 125.50,261.53 125.75,259.12 126.00,256.26 126.25,252.98 126.50,249.29 126.75,245.26 127.00,240.96 127.25,236.51 127.50,232.05 127.75,227.75 128.00,223.81 128.25,220.42 128.50,217.78 128.75,216.01 129.00,215.18 129.25,215.28 129.50,216.24 129.75,217.92 130.00,220.14 130.25,222.73 130.50,225.52 130.75,228.37 131.00,231.19 131.25,233.90 131.50,236.48 131.75,238.89 132.00,241.14 132.25,243.22 132.50,245.16 132.75,246.95 133.00,248.60 133.25,250.13 133.50,251.55 133.75,252.86 134.00,254.07 134.25,255.19 134.50,256.23 134.75,257.18 135.00,258.07 135.25,258.89 135.50,259.64 135.75,260.34 136.00,260.99 136.25,261.59 136.50,262.14 136.75,262.65 137.00,263.13 137.25,263.56 137.50,263.97 137.75,264.34 138.00,264.69 138.25,265.01 138.50,265.30 138.75,265.58 139.00,265.83 139.25,266.06 139.50,266.28 139.75,266.48 140.00,266.66 140.25,266.83 140.50,266.99 140.75,267.13 141.00,267.27 141.25,267.39 141.50,267.50 141.75,267.61 142.00,267.71 142.25,267.80 142.50,267.88 142.75,267.96 143.00,268.03 143.25,268.09 143.50,268.15 143.75,268.21 144.00,268.26 144.25,268.31 144.50,268.35 144.75,268.39 145.00,268.43 145.25,268.46 145.50,268.49 145.75,268.52 146.00,268.54 146.25,268.55 146.50,268.55 146.75,268.52 147.00,268.45 147.25,268.32 147.50,268.09 147.75,267.72 148.00,267.16 148.25,266.35 148.50,265.23 148.75,263.75 149.00,261.86 149.25,259.53 149.50,256.75 149.75,253.51 150.00,249.84 150.25,245.78 150.50,241.41 150.75,236.83 151.00,232.17 151.25,227.60 151.50,223.33 151.75,219.55 152.00,216.47 152.25,214.25 152.50,213.00 152.75,212.72 153.00,213.39 153.25,214.85 153.50,216.96 153.75,219.53 154.00,222.37 154.25,225.32 154.50,228.28 154.75,231.16 155.00,233.90 155.25,236.48 155.50,238.88 155.75,241.12 156.00,243.20 156.25,245.12 156.50,246.90 156.75,248.55 157.00,250.07 157.25,251.47 157.50,252.77 157.75,253.98 158.00,255.09 158.25,256.12 158.50,257.07 158.75,257.95 159.00,258.76 159.25,259.51 159.50,260.21 159.75,260.85 160.00,261.45 160.25,262.00 160.50,262.50 160.75,262.97 161.00,263.41 161.25,263.81 161.50,264.18 161.75,264.52 162.00,264.84 162.25,265.13 162.50,265.40 162.75,265.66 163.00,265.89 163.25,266.10 163.50,266.30 163.75,266.48 164.00,266.65 164.25,266.81 164.50,266.95 164.75,267.08 165.00,267.21 165.25,267.32 165.50,267.42 165.75,267.52 166.00,267.61 166.25,267.69 166.50,267.77 166.75,267.84 167.00,267.90 167.25,267.96 167.50,268.00 167.75,268.02 168.00,268.03 168.25,267.99 168.50,267.88 168.75,267.69 169.00,267.37 169.25,266.88 169.50,266.16 169.75,265.17 170.00,263.86 170.25,262.20 170.50,260.16 170.75,257.74 171.00,254.92 171.25,251.75 171.50,248.26 171.75,244.52 172.00,240.61 172.25,236.67 172.50,232.84 172.75,229.29 173.00,226.20 173.25,223.73 173.50,222.01 173.75,221.11 174.00,221.05 174.25,221.76 174.50,223.13 174.75,225.02 175.00,227.25 175.25,229.69 175.50,232.21 175.75,234.71 176.00,237.14 176.25,239.44 176.50,241.60 176.75,243.62 177.00,245.49 177.25,247.22 177.50,248.83 177.75,250.32 178.00,251.69 178.25,252.96 178.50,254.14 178.75,255.23 179.00,256.23 179.25,257.16 179.50,258.02 179.75,258.82 180.00,259.55 180.25,260.23 180.50,260.86 180.75,261.44 181.00,261.98 181.25,262.48 181.50,262.93 181.75,263.36 182.00,263.75 182.25,264.11 182.50,264.45 182.75,264.76 183.00,265.05 183.25,265.31 183.50,265.56 183.75,265.78 184.00,265.99 184.25,266.18 184.50,266.36 184.75,266.53 185.00,266.68 185.25,266.82 185.50,266.95 185.75,267.07 186.00,267.17 186.25,267.27 186.50,267.36 186.75,267.43 187.00,267.49 187.25,267.53 187.50,267.56 187.75,267.55 188.00,267.51 188.25,267.42 188.50,267.27 188.75,267.03 189.00,266.70 189.25,266.24 189.50,265.63 189.75,264.83 190.00,263.80 190.25,262.52 190.50,260.96 190.75,259.09 191.00,256.89 191.25,254.35 191.50,251.50 191.75,248.35 192.00,244.95 192.25,241.38 192.50,237.71 192.75,234.05 193.00,230.51 193.25,227.21 193.50,224.26 193.75,221.79 194.00,219.87 194.25,218.58 194.50,217.96 194.75,218.03 195.00,218.77 195.25,220.14 195.50,222.05 195.75,224.43 196.00,227.17 196.25,230.15 196.50,233.28 196.75,236.45 197.00,239.57 197.25,242.57 197.50,245.39 197.75,248.00 198.00,250.36 198.25,252.48 198.50,254.35 198.75,255.98 199.00,257.41 199.25,258.64 199.50,259.70 199.75,260.61 200.00,261.40 200.25,262.09 200.50,262.68 200.75,263.21 201.00,263.67 201.25,264.08 201.50,264.45 201.75,264.78 202.00,265.08 202.25,265.35 202.50,265.60 202.75,265.83 203.00,266.04 203.25,266.23 203.50,266.40 203.75,266.56 204.00,266.71 204.25,266.85 204.50,266.97 204.75,267.08 205.00,267.19 205.25,267.29 205.50,267.37 205.75,267.46 206.00,267.53 206.25,267.60 206.50,267.66 206.75,267.72 207.00,267.77 207.25,267.82 207.50,267.86 207.75,267.90 208.00,267.94 208.25,267.98 208.50,268.01 208.75,268.04 209.00,268.06 209.25,268.09 209.50,268.11 209.75,268.13 210.00,268.15 210.25,268.16 210.50,268.18 210.75,268.19 211.00,268.20 211.25,268.22 211.50,268.23 211.75,268.23 212.00,268.24 212.25,268.25 212.50,268.26 212.75,268.26 213.00,268.27 213.25,268.27 213.50,268.28 213.75,268.28 214.00,268.28 214.25,268.29 214.50,268.29 214.75,268.29 215.00,268.29 215.25,268.30 215.50,268.30 215.75,268.30 216.00,268.30 216.25,268.30 216.50,268.30 216.75,268.30 217.00,268.30 217.25,268.30 217.50,268.30 217.75,268.30 218.00,268.30 218.25,268.30 218.50,268.30 218.75,268.29 219.00,268.29 219.25,268.29 219.50,268.29 219.75,268.29 220.00,268.29 220.25,268.29 220.50,268.29 220.75,268.28 221.00,268.28 221.25,268.28 221.50,268.28 221.75,268.28 222.00,268.28 222.25,268.27 222.50,268.27 222.75,268.27 223.00,268.27 223.25,268.27 223.50,268.27 223.75,268.26 224.00,268.26 224.25,268.26 224.50,268.26 224.75,268.26 225.00,268.25 225.25,268.25 225.50,268.25 225.75,268.25 226.00,268.25 226.25,268.25 226.50,268.24 226.75,268.24 227.00,268.24 227.25,268.24 227.50,268.24 227.75,268.23 228.00,268.23 228.25,268.23 228.50,268.23 228.75,268.23 229.00,268.22 229.25,268.22 229.50,268.22 229.75,268.22 230.00,268.22 230.25,268.21 230.50,268.21 230.75,268.21 231.00,268.21 231.25,268.21 231.50,268.20 231.75,268.20 232.00,268.20 232.25,268.20 232.50,268.20 232.75,268.19 233.00,268.19 233.25,268.19 233.50,268.19 233.75,268.19 234.00,268.18 234.25,268.18 234.50,268.18 234.75,268.18 235.00,268.18 235.25,268.17 235.50,268.17 235.75,268.17 236.00,268.17 236.25,268.16 236.50,268.16 236.75,268.16 237.00,268.16 237.25,268.16 237.50,268.15 237.75,268.15 238.00,268.15 238.25,268.15 238.50,268.15 238.75,268.14 239.00,268.14 239.25,268.14 239.50,268.14 239.75,268.14 240.00,268.13 240.25,268.13 240.50,268.13 240.75,268.13 241.00,268.13 241.25,268.12 241.50,268.12 241.75,268.12 242.00,268.12 242.25,268.12 242.50,268.11 242.75,268.11 243.00,268.11 243.25,268.11 243.50,268.11 243.75,268.10 244.00,268.10 244.25,268.10 244.50,268.10 244.75,268.10 245.00,268.09 245.25,268.09 245.50,268.09 245.75,268.09 246.00,268.09 246.25,268.08 246.50,268.08 246.75,268.08 247.00,268.08 247.25,268.08 247.50,268.07 247.75,268.07 248.00,268.07 248.25,268.07 248.50,268.07 248.75,268.06 249.00,268.06 249.25,268.06 249.50,268.06 249.75,268.05 250.00,268.05 250.25,268.05 250.50,268.05 250.75,268.05 251.00,268.04 251.25,268.04 251.50,268.04 251.75,268.04 252.00,268.04 252.25,268.03 252.50,268.03 252.75,268.03 253.00,268.03 253.25,268.03 253.50,268.02 253.75,268.02 254.00,268.02 254.25,268.02 254.50,268.02 254.75,268.01 255.00,268.01 255.25,268.01 255.50,268.01"/>
<polyline fill="none" stroke="#fa6464" stroke-width="1.45" stroke-linejoin="round" points="302.65,269.18 302.90,269.18 303.15,269.18 303.40,269.18 303.65,269.18 303.90,269.18 304.15,269.18 304.40,269.18 304.65,269.18 304.90,269.18 305.15,269.18 305.40,269.18 305.65,269.18 305.90,269.18 306.15,269.18 306.40,269.18 306.65,269.18 306.90,269.18 307.15,269.18 307.40,269.18 307.65,269.18 307.90,269.18 308.15,269.18 308.40,269.18 308.65,269.18 308.90,269.18 309.15,269.18 309.40,269.18 309.65,269.18 309.90,269.18 310.15,269.18 310.40,269.18 310.65,269.18 310.90,269.18 311.15,269.18 311.40,269.18 311.65,269.18 311.90,269.18 312.15,269.18 312.40,269.18 312.65,269.18 312.90,269.18 313.15,269.18 313.40,269.18 313.65,269.18 313.90,269.18 314.15,269.18 314.40,269.18 314.65,269.18 314.90,269.18 315.15,269.18 315.40,269.18 315.65,269.18 315.90,269.18 316.15,269.18 316.40,269.18 316.65,269.18 316.90,269.18 317.15,269.18 317.40,269.18 317.65,269.18 317.90,269.18 318.15,269.18 318.40,269.18 318.65,269.18 318.90,269.18 319.15,269.18 319.40,269.18 319.65,269.18 319.90,269.18 320.15,269.18 320.40,269.18 320.65,269.18 320.90,269.18 321.15,269.18 321.40,269.18 321.65,269.18 321.90,269.18 322.15,269.18 322.40,269.18 322.65,269.18 322.90,269.18 323.15,269.18 323.40,269.18 323.65,269.18 323.90,269.18 324.15,269.18 324.40,269.18 324.65,269.18 324.90,269.18 325.15,269.18 325.40,269.18 325.65,269.18 325.90,269.18 326.15,269.18 326.40,269.18 326.65,269.18 326.90,269.18 327.15,269.18 327.40,269.18 327.65,269.18 327.90,269.18 328.15,269.18 328.40,269.18 328.65,269.18 328.90,269.18 329.15,269.18 329.40,269.18 329.65,269.17 329.90,269.17 330.15,269.16 330.40,269.15 330.65,269.13 330.90,269.10 331.15,269.06 331.40,268.99 331.65,268.90 331.90,268.76 332.15,268.57 332.40,268.30 332.65,267.94 332.90,267.46 333.15,266.84 333.40,266.04 333.65,265.02 333.90,263.74 334.15,262.13 334.40,260.09 334.65,257.52 334.90,254.30 335.15,250.36 335.40,245.74 335.65,240.64 335.90,235.45 336.15,230.70 336.40,226.95 336.65,224.62 336.90,223.88 337.15,224.59 337.40,226.38 337.65,228.79 337.90,231.42 338.15,234.00 338.40,236.43 338.65,238.71 338.90,240.90 339.15,243.05 339.40,245.20 339.65,247.35 339.90,249.47 340.15,251.55 340.40,253.53 340.65,255.40 340.90,257.14 341.15,258.72 341.40,260.14 341.65,261.41 341.90,262.52 342.15,263.50 342.40,264.35 342.65,265.08 342.90,265.70 343.15,266.24 343.40,266.69 343.65,267.08 343.90,267.41 344.15,267.69 344.40,267.92 344.65,268.12 344.90,268.28 345.15,268.42 345.40,268.54 345.65,268.64 345.90,268.73 346.15,268.80 346.40,268.85 346.65,268.90 346.90,268.94 347.15,268.96 347.40,268.97 347.65,268.97 347.90,268.95 348.15,268.91 348.40,268.83 348.65,268.71 348.90,268.53 349.15,268.27 349.40,267.92 349.65,267.43 349.90,266.80 350.15,265.96 350.40,264.90 350.65,263.55 350.90,261.86 351.15,259.72 351.40,257.01 351.65,253.60 351.90,249.37 352.15,244.26 352.40,238.40 352.65,232.12 352.90,225.97 353.15,220.63 353.40,216.74 353.65,214.69 353.90,214.53 354.15,215.97 354.40,218.51 354.65,221.58 354.90,224.77 355.15,227.83 355.40,230.69 355.65,233.39 355.90,236.01 356.15,238.61 356.40,241.21 356.65,243.80 356.90,246.36 357.15,248.83 357.40,251.18 357.65,253.37 357.90,255.40 358.15,257.23 358.40,258.88 358.65,260.34 358.90,261.62 359.15,262.74 359.40,263.70 359.65,264.53 359.90,265.25 360.15,265.85 360.40,266.37 360.65,266.81 360.90,267.18 361.15,267.49 361.40,267.76 361.65,267.98 361.90,268.17 362.15,268.33 362.40,268.46 362.65,268.57 362.90,268.67 363.15,268.75 363.40,268.82 363.65,268.87 363.90,268.92 364.15,268.96 364.40,268.99 364.65,269.02 364.90,269.04 365.15,269.05 365.40,269.06 365.65,269.05 365.90,269.04 366.15,269.02 366.40,268.99 366.65,268.94 366.90,268.86 367.15,268.75 367.40,268.61 367.65,268.43 367.90,268.18 368.15,267.87 368.40,267.48 368.65,266.99 368.90,266.40 369.15,265.67 369.40,264.81 369.65,263.79 369.90,262.58 370.15,261.18 370.40,259.55 370.65,257.68 370.90,255.54 371.15,253.13 371.40,250.47 371.65,247.61 371.90,244.64 372.15,241.70 372.40,238.93 372.65,236.47 372.90,234.45 373.15,232.91 373.40,231.86 373.65,231.25 373.90,231.00 374.15,231.02 374.40,231.25 374.65,231.63 374.90,232.16 375.15,232.84 375.40,233.66 375.65,234.63 375.90,235.75 376.15,237.00 376.40,238.36 376.65,239.82 376.90,241.34 377.15,242.89 377.40,244.46 377.65,246.01 377.90,247.54 378.15,249.02 378.40,250.45 378.65,251.82 378.90,253.11 379.15,254.33 379.40,255.47 379.65,256.54 379.90,257.53 380.15,258.46 380.40,259.31 380.65,260.10 380.90,260.84 381.15,261.51 381.40,262.13 381.65,262.70 381.90,263.22 382.15,263.71 382.40,264.15 382.65,264.56 382.90,264.94 383.15,265.28 383.40,265.60 383.65,265.89 383.90,266.16 384.15,266.40 384.40,266.63 384.65,266.83 384.90,267.03 385.15,267.20 385.40,267.36 385.65,267.51 385.90,267.64 386.15,267.77 386.40,267.88 386.65,267.99 386.90,268.09 387.15,268.17 387.40,268.26 387.65,268.33 387.90,268.40 388.15,268.46 388.40,268.52 388.65,268.57 388.90,268.62 389.15,268.66 389.40,268.69 389.65,268.72 389.90,268.73 390.15,268.73 390.40,268.71 390.65,268.67 390.90,268.59 391.15,268.46 391.40,268.27 391.65,267.99 391.90,267.62 392.15,267.12 392.40,266.46 392.65,265.61 392.90,264.53 393.15,263.16 393.40,261.44 393.65,259.26 393.90,256.50 394.15,253.06 394.40,248.88 394.65,244.02 394.90,238.74 395.15,233.46 395.40,228.75 395.65,225.17 395.90,223.11 396.15,222.67 396.40,223.66 396.65,225.66 396.90,228.22 397.15,230.93 397.40,233.55 397.65,236.02 397.90,238.33 398.15,240.57 398.40,242.78 398.65,244.98 398.90,247.19 399.15,249.37 399.40,251.48 399.65,253.50 399.90,255.39 400.15,257.14 400.40,258.73 400.65,260.16 400.90,261.43 401.15,262.55 401.40,263.52 401.65,264.37 401.90,265.10 402.15,265.72 402.40,266.25 402.65,266.71 402.90,267.09 403.15,267.42 403.40,267.69 403.65,267.93 403.90,268.12 404.15,268.29 404.40,268.43 404.65,268.55 404.90,268.65 405.15,268.73 405.40,268.80 405.65,268.86 405.90,268.91 406.15,268.95 406.40,268.99 406.65,269.02 406.90,269.04 407.15,269.06 407.40,269.08 407.65,269.10 407.90,269.11 408.15,269.12 408.40,269.13 408.65,269.14 408.90,269.14 409.15,269.15 409.40,269.15 409.65,269.16 409.90,269.16 410.15,269.16 410.40,269.17 410.65,269.17 410.90,269.17 411.15,269.17 411.40,269.17 411.65,269.17 411.90,269.16 412.15,269.15 412.40,269.14 412.65,269.11 412.90,269.08 413.15,269.02 413.40,268.94 413.65,268.81 413.90,268.64 414.15,268.40 414.40,268.06 414.65,267.62 414.90,267.03 415.15,266.27 415.40,265.29 415.65,264.06 415.90,262.51 416.15,260.56 416.40,258.09 416.65,254.98 416.90,251.11 417.15,246.45 417.40,241.10 417.65,235.37 417.90,229.76 418.15,224.89 418.40,221.33 418.65,219.46 418.90,219.32 419.15,220.64 419.40,222.95 419.65,225.75 419.90,228.66 420.15,231.45 420.40,234.06 420.65,236.52 420.90,238.91 421.15,241.29 421.40,243.66 421.65,246.03 421.90,248.36 422.15,250.61 422.40,252.75 422.65,254.76 422.90,256.60 423.15,258.28 423.40,259.78 423.65,261.11 423.90,262.28 424.15,263.30 424.40,264.18 424.65,264.94 424.90,265.59 425.15,266.14 425.40,266.61 425.65,267.01 425.90,267.35 426.15,267.64 426.40,267.88 426.65,268.08 426.90,268.26 427.15,268.40 427.40,268.52 427.65,268.63 427.90,268.71 428.15,268.79 428.40,268.85 428.65,268.90 428.90,268.95 429.15,268.98 429.40,269.01 429.65,269.04 429.90,269.06 430.15,269.08 430.40,269.10 430.65,269.11 430.90,269.12 431.15,269.13 431.40,269.14 431.65,269.14 431.90,269.14 432.15,269.14 432.40,269.14 432.65,269.13 432.90,269.11 433.15,269.09 433.40,269.04 433.65,268.98 433.90,268.88 434.15,268.74 434.40,268.54 434.65,268.26 434.90,267.90 435.15,267.41 435.40,266.77 435.65,265.96 435.90,264.93 436.15,263.63 436.40,262.00 436.65,259.94 436.90,257.33 437.15,254.08 437.40,250.14 437.65,245.56 437.90,240.57 438.15,235.59 438.40,231.15 438.65,227.78 438.90,225.83 439.15,225.41 439.40,226.34 439.65,228.23 439.90,230.63 440.15,233.18 440.40,235.65 440.65,237.97 440.90,240.15 441.15,242.25 441.40,244.33 441.65,246.41 441.90,248.48 442.15,250.53 442.40,252.52 442.65,254.42 442.90,256.21 443.15,257.85 443.40,259.35 443.65,260.70 443.90,261.89 444.15,262.94 444.40,263.86 444.65,264.66 444.90,265.34 445.15,265.93 445.40,266.43 445.65,266.86 445.90,267.22 446.15,267.52 446.40,267.78 446.65,268.00 446.90,268.19 447.15,268.34 447.40,268.47 447.65,268.59 447.90,268.68 448.15,268.76 448.40,268.82 448.65,268.88 448.90,268.93 449.15,268.97 449.40,269.00 449.65,269.03 449.90,269.05 450.15,269.07 450.40,269.09 450.65,269.10 450.90,269.11 451.15,269.12 451.40,269.12 451.65,269.11 451.90,269.10 452.15,269.08 452.40,269.04 452.65,268.98 452.90,268.89 453.15,268.75 453.40,268.56 453.65,268.29 453.90,267.93 454.15,267.44 454.40,266.81 454.65,265.99 454.90,264.95 455.15,263.63 455.40,261.97 455.65,259.88 455.90,257.24 456.15,253.93 456.40,249.86 456.65,245.03 456.90,239.62 457.15,234.01 457.40,228.76 457.65,224.47 457.90,221.64 458.15,220.51 458.40,220.98 458.65,222.71 458.90,225.21 459.15,228.02 459.40,230.82 459.65,233.47 459.90,235.95 460.15,238.31 460.40,240.63 460.65,242.94 460.90,245.25 461.15,247.54 461.40,249.79 461.65,251.94 461.90,253.98 462.15,255.87 462.40,257.60 462.65,259.17 462.90,260.56 463.15,261.80 463.40,262.87 463.65,263.81 463.90,264.62 464.15,265.32 464.40,265.91 464.65,266.42 464.90,266.84 465.15,267.21 465.40,267.52 465.65,267.78 465.90,268.00 466.15,268.18 466.40,268.34 466.65,268.47 466.90,268.58 467.15,268.68 467.40,268.76 467.65,268.82 467.90,268.88 468.15,268.93 468.40,268.97 468.65,269.00 468.90,269.03 469.15,269.05 469.40,269.07 469.65,269.09 469.90,269.10 470.15,269.12 470.40,269.13 470.65,269.13 470.90,269.14 471.15,269.15 471.40,269.15 471.65,269.16 471.90,269.16 472.15,269.16 472.40,269.17 472.65,269.17 472.90,269.17 473.15,269.17 473.40,269.16 473.65,269.16 473.90,269.15 474.15,269.14 474.40,269.11 474.65,269.08 474.90,269.02 475.15,268.94 475.40,268.82 475.65,268.66 475.90,268.42 476.15,268.11 476.40,267.68 476.65,267.13 476.90,266.41 477.15,265.49 477.40,264.33 477.65,262.87 477.90,261.03 478.15,258.71 478.40,255.79 478.65,252.17 478.90,247.85 479.15,242.95 479.40,237.78 479.65,232.83 479.90,228.66 480.15,225.75 480.40,224.39 480.65,224.55 480.90,225.95 481.15,228.14 481.40,230.71 481.65,233.31 481.90,235.78 482.15,238.09 482.40,240.29 482.65,242.43 482.90,244.56 483.15,246.69 483.40,248.81 483.65,250.89 483.90,252.90 484.15,254.80 484.40,256.57 484.65,258.20 484.90,259.67 485.15,260.99 485.40,262.16 485.65,263.18 485.90,264.07 486.15,264.84 486.40,265.50 486.65,266.06 486.90,266.54 487.15,266.95 487.40,267.30 487.65,267.59 487.90,267.84 488.15,268.05 488.40,268.23 488.65,268.38 488.90,268.50 489.15,268.61 489.40,268.70 489.65,268.78 489.90,268.84 490.15,268.89 490.40,268.94 490.65,268.98 490.90,269.01 491.15,269.04 491.40,269.06 491.65,269.08 491.90,269.09 492.15,269.11 492.40,269.12 492.65,269.13 492.90,269.14 493.15,269.14 493.40,269.15 493.65,269.15 493.90,269.16 494.15,269.16 494.40,269.16 494.65,269.17 494.90,269.17 495.15,269.17 495.40,269.17 495.65,269.17 495.90,269.17 496.15,269.18 496.40,269.18 496.65,269.18 496.90,269.18 497.15,269.18 497.40,269.18 497.65,269.18 497.90,269.18 498.15,269.18 498.40,269.18 498.65,269.18 498.90,269.18 499.15,269.18 499.40,269.18 499.65,269.18 499.90,269.18 500.15,269.18 500.40,269.18 500.65,269.18 500.90,269.18 501.15,269.18 501.40,269.18 501.65,269.18 501.90,269.18 502.15,269.18 502.40,269.18 502.65,269.18 502.90,269.18 503.15,269.18 503.40,269.18 503.65,269.18 503.90,269.18 504.15,269.18 504.40,269.18 504.65,269.18 504.90,269.18 505.15,269.18 505.40,269.18 505.65,269.18 505.90,269.18 506.15,269.18 506.40,269.18 506.65,269.18 506.90,269.18 507.15,269.18 507.40,269.18 507.65,269.18 507.90,269.18 508.15,269.18 508.40,269.18 508.65,269.18 508.90,269.18 509.15,269.18 509.40,269.18 509.65,269.18 509.90,269.18 510.15,269.18 510.40,269.18 510.65,269.18 510.90,269.18 511.15,269.18 511.40,269.18 511.65,269.18 511.90,269.18 512.15,269.18 512.40,269.18 512.65,269.18 512.90,269.18 513.15,269.18 513.40,269.18 513.65,269.18 513.90,269.18 514.15,269.18 514.40,269.18 514.65,269.18 514.90,269.18 515.15,269.18 515.40,269.18 515.65,269.18 515.90,269.18 516.15,269.18 516.40,269.18 516.65,269.18 516.90,269.18 517.15,269.18 517.40,269.18 517.65,269.18 517.90,269.18 518.15,269.18 518.40,269.18 518.65,269.18 518.90,269.18 519.15,269.18 519.40,269.18 519.65,269.18 519.90,269.18 520.15,269.18 520.40,269.18 520.65,269.18 520.90,269.18 521.15,269.18 521.40,269.18 521.65,269.18 521.90,269.18 522.15,269.18 522.40,269.18 522.65,269.18 522.90,269.18 523.15,269.18 523.40,269.18 523.65,269.18 523.90,269.18 524.15,269.18 524.40,269.18 524.65,269.18 524.90,269.18 525.15,269.18 525.40,269.18 525.65,269.18 525.90,269.18 526.15,269.18 526.40,269.18 526.65,269.18 526.90,269.18 527.15,269.18 527.40,269.18 527.65,269.18 527.90,269.18 528.15,269.18 528.40,269.18 528.65,269.18 528.90,269.18 529.15,269.18 529.40,269.18 529.65,269.18 529.90,269.18 530.15,269.18 530.40,269.18"/>
<polyline fill="none" stroke="#1ec3c3" stroke-width="1.45" stroke-linejoin="round" points="27.00,331.10 27.25,331.10 27.50,331.10 27.75,331.10 28.00,331.10 28.25,331.10 28.50,331.10 28.75,331.10 29.00,331.10 29.25,331.10 29.50,331.10 29.75,331.10 30.00,331.10 30.25,331.10 30.50,331.10 30.75,331.10 31.00,331.10 31.25,331.10 31.50,331.10 31.75,331.10 32.00,331.10 32.25,331.10 32.50,331.10 32.75,331.10 33.00,331.10 33.25,331.10 33.50,331.10 33.75,331.10 34.00,331.10 34.25,331.10 34.50,331.10 34.75,331.10 35.00,331.10 35.25,331.10 35.50,331.10 35.75,331.10 36.00,331.10 36.25,331.10 36.50,331.10 36.75,331.10 37.00,331.10 37.25,331.10 37.50,331.10 37.75,331.10 38.00,331.10 38.25,331.10 38.50,331.10 38.75,331.10 39.00,331.10 39.25,331.10 39.50,331.10 39.75,331.10 40.00,331.10 40.25,331.10 40.50,331.10 40.75,331.10 41.00,331.10 41.25,331.10 41.50,331.10 41.75,331.10 42.00,331.10 42.25,331.10 42.50,331.10 42.75,331.10 43.00,331.10 43.25,331.10 43.50,331.10 43.75,331.10 44.00,331.10 44.25,331.10 44.50,331.10 44.75,331.10 45.00,331.10 45.25,331.10 45.50,331.10 45.75,331.10 46.00,331.10 46.25,331.10 46.50,331.10 46.75,331.10 47.00,331.10 47.25,331.10 47.50,331.10 47.75,331.10 48.00,331.10 48.25,331.10 48.50,331.10 48.75,331.10 49.00,331.10 49.25,331.10 49.50,331.10 49.75,331.10 50.00,331.10 50.25,331.10 50.50,331.10 50.75,331.10 51.00,331.10 51.25,331.10 51.50,331.10 51.75,331.10 52.00,331.10 52.25,331.10 52.50,331.10 52.75,331.10 53.00,331.10 53.25,331.10 53.50,331.10 53.75,331.10 54.00,331.10 54.25,331.10 54.50,331.10 54.75,331.10 55.00,331.10 55.25,331.10 55.50,331.10 55.75,331.10 56.00,331.10 56.25,331.10 56.50,331.10 56.75,331.10 57.00,331.10 57.25,331.10 57.50,331.10 57.75,331.10 58.00,331.10 58.25,331.10 58.50,331.10 58.75,331.10 59.00,331.10 59.25,331.10 59.50,331.05 59.75,330.75 60.00,329.66 60.25,327.20 60.50,323.49 60.75,319.16 61.00,314.67 61.25,310.15 61.50,305.62 61.75,301.08 62.00,296.52 62.25,291.99 62.50,287.92 62.75,285.53 63.00,286.30 63.25,289.99 63.50,294.67 63.75,298.79 64.00,301.84 64.25,303.78 64.50,304.63 64.75,304.43 65.00,303.23 65.25,301.10 65.50,298.17 65.75,294.59 66.00,290.57 66.25,286.37 66.50,282.26 66.75,278.52 67.00,275.43 67.25,273.22 67.50,272.06 67.75,272.04 68.00,273.16 68.25,275.35 68.50,278.44 68.75,282.25 69.00,286.54 69.25,291.06 69.50,295.61 69.75,299.99 70.00,304.07 70.25,307.76 70.50,311.00 70.75,313.79 71.00,316.14 71.25,318.11 71.50,319.74 71.75,321.08 72.00,322.19 72.25,323.12 72.50,323.90 72.75,324.57 73.00,325.14 73.25,325.65 73.50,326.10 73.75,326.50 74.00,326.86 74.25,327.17 74.50,327.44 74.75,327.65 75.00,327.79 75.25,327.84 75.50,327.76 75.75,327.50 76.00,327.03 76.25,326.30 76.50,325.26 76.75,323.87 77.00,322.10 77.25,319.94 77.50,317.38 77.75,314.44 78.00,311.16 78.25,307.60 78.50,303.83 78.75,299.96 79.00,296.14 79.25,292.52 79.50,289.28 79.75,286.60 80.00,284.61 80.25,283.42 80.50,283.07 80.75,283.51 81.00,284.65 81.25,286.37 81.50,288.50 81.75,290.89 82.00,293.40 82.25,295.92 82.50,298.39 82.75,300.75 83.00,302.97 83.25,305.05 83.50,306.98 83.75,308.78 84.00,310.44 84.25,311.97 84.50,313.39 84.75,314.71 85.00,315.92 85.25,317.05 85.50,318.09 85.75,319.05 86.00,319.94 86.25,320.76 86.50,321.52 86.75,322.22 87.00,322.87 87.25,323.47 87.50,324.02 87.75,324.54 88.00,325.01 88.25,325.45 88.50,325.86 88.75,326.23 89.00,326.58 89.25,326.90 89.50,327.19 89.75,327.47 90.00,327.72 90.25,327.95 90.50,328.17 90.75,328.37 91.00,328.55 91.25,328.72 91.50,328.88 91.75,329.03 92.00,329.16 92.25,329.29 92.50,329.40 92.75,329.51 93.00,329.60 93.25,329.69 93.50,329.78 93.75,329.85 94.00,329.93 94.25,329.99 94.50,330.05 94.75,330.11 95.00,330.16 95.25,330.21 95.50,330.25 95.75,330.29 96.00,330.33 96.25,330.36 96.50,330.39 96.75,330.42 97.00,330.45 97.25,330.47 97.50,330.49 97.75,330.51 98.00,330.52 98.25,330.53 98.50,330.52 98.75,330.48 99.00,330.41 99.25,330.28 99.50,330.06 99.75,329.71 100.00,329.19 100.25,328.46 100.50,327.47 100.75,326.18 101.00,324.55 101.25,322.58 101.50,320.24 101.75,317.54 102.00,314.52 102.25,311.22 102.50,307.70 102.75,304.05 103.00,300.39 103.25,296.86 103.50,293.63 103.75,290.86 104.00,288.69 104.25,287.24 104.50,286.56 104.75,286.65 105.00,287.43 105.25,288.81 105.50,290.63 105.75,292.76 106.00,295.04 106.25,297.38 106.50,299.69 106.75,301.92 107.00,304.03 107.25,306.01 107.50,307.85 107.75,309.56 108.00,311.15 108.25,312.61 108.50,313.97 108.75,315.23 109.00,316.39 109.25,317.46 109.50,318.45 109.75,319.37 110.00,320.22 110.25,321.01 110.50,321.73 110.75,322.40 111.00,323.02 111.25,323.60 111.50,324.13 111.75,324.62 112.00,325.07 112.25,325.49 112.50,325.88 112.75,326.24 113.00,326.57 113.25,326.87 113.50,327.16 113.75,327.42 114.00,327.66 114.25,327.88 114.50,328.09 114.75,328.28 115.00,328.46 115.25,328.62 115.50,328.77 115.75,328.91 116.00,329.04 116.25,329.16 116.50,329.27 116.75,329.37 117.00,329.46 117.25,329.55 117.50,329.63 117.75,329.70 118.00,329.77 118.25,329.83 118.50,329.89 118.75,329.94 119.00,329.99 119.25,330.04 119.50,330.08 119.75,330.12 120.00,330.15 120.25,330.18 120.50,330.21 120.75,330.24 121.00,330.27 121.25,330.29 121.50,330.31 121.75,330.33 122.00,330.35 122.25,330.36 122.50,330.37 122.75,330.37 123.00,330.35 123.25,330.30 123.50,330.20 123.75,330.04 124.00,329.76 124.25,329.33 124.50,328.70 124.75,327.80 125.00,326.59 125.25,325.02 125.50,323.03 125.75,320.62 126.00,317.76 126.25,314.48 126.50,310.79 126.75,306.76 127.00,302.46 127.25,298.01 127.50,293.55 127.75,289.25 128.00,285.31 128.25,281.92 128.50,279.28 128.75,277.51 129.00,276.68 129.25,276.78 129.50,277.74 129.75,279.42 130.00,281.64 130.25,284.23 130.50,287.02 130.75,289.87 131.00,292.69 131.25,295.40 131.50,297.98 131.75,300.39 132.00,302.64 132.25,304.72 132.50,306.66 132.75,308.45 133.00,310.10 133.25,311.63 133.50,313.05 133.75,314.36 134.00,315.57 134.25,316.69 134.50,317.73 134.75,318.68 135.00,319.57 135.25,320.39 135.50,321.14 135.75,321.84 136.00,322.49 136.25,323.09 136.50,323.64 136.75,324.15 137.00,324.63 137.25,325.06 137.50,325.47 137.75,325.84 138.00,326.19 138.25,326.51 138.50,326.80 138.75,327.08 139.00,327.33 139.25,327.56 139.50,327.78 139.75,327.98 140.00,328.16 140.25,328.33 140.50,328.49 140.75,328.63 141.00,328.77 141.25,328.89 141.50,329.00 141.75,329.11 142.00,329.21 142.25,329.30 142.50,329.38 142.75,329.46 143.00,329.53 143.25,329.59 143.50,329.65 143.75,329.71 144.00,329.76 144.25,329.81 144.50,329.85 144.75,329.89 145.00,329.93 145.25,329.96 145.50,329.99 145.75,330.02 146.00,330.04 146.25,330.05 146.50,330.05 146.75,330.02 147.00,329.95 147.25,329.82 147.50,329.59 147.75,329.22 148.00,328.66 148.25,327.85 148.50,326.73 148.75,325.25 149.00,323.36 149.25,321.03 149.50,318.25 149.75,315.01 150.00,311.34 150.25,307.28 150.50,302.91 150.75,298.33 151.00,293.67 151.25,289.10 151.50,284.83 151.75,281.05 152.00,277.97 152.25,275.75 152.50,274.50 152.75,274.22 153.00,274.89 153.25,276.35 153.50,278.46 153.75,281.03 154.00,283.87 154.25,286.82 154.50,289.78 154.75,292.66 155.00,295.40 155.25,297.98 155.50,300.38 155.75,302.62 156.00,304.70 156.25,306.62 156.50,308.40 156.75,310.05 157.00,311.57 157.25,312.97 157.50,314.27 157.75,315.48 158.00,316.59 158.25,317.62 158.50,318.57 158.75,319.45 159.00,320.26 159.25,321.01 159.50,321.71 159.75,322.35 160.00,322.95 160.25,323.50 160.50,324.00 160.75,324.47 161.00,324.91 161.25,325.31 161.50,325.68 161.75,326.02 162.00,326.34 162.25,326.63 162.50,326.90 162.75,327.16 163.00,327.39 163.25,327.60 163.50,327.80 163.75,327.98 164.00,328.15 164.25,328.31 164.50,328.45 164.75,328.58 165.00,328.71 165.25,328.82 165.50,328.92 165.75,329.02 166.00,329.11 166.25,329.19 166.50,329.27 166.75,329.34 167.00,329.40 167.25,329.46 167.50,329.50 167.75,329.52 168.00,329.53 168.25,329.49 168.50,329.38 168.75,329.19 169.00,328.87 169.25,328.38 169.50,327.66 169.75,326.67 170.00,325.36 170.25,323.70 170.50,321.66 170.75,319.24 171.00,316.42 171.25,313.25 171.50,309.76 171.75,306.02 172.00,302.11 172.25,298.17 172.50,294.34 172.75,290.79 173.00,287.70 173.25,285.23 173.50,283.51 173.75,282.61 174.00,282.55 174.25,283.26 174.50,284.63 174.75,286.52 175.00,288.75 175.25,291.19 175.50,293.71 175.75,296.21 176.00,298.64 176.25,300.94 176.50,303.10 176.75,305.12 177.00,306.99 177.25,308.72 177.50,310.33 177.75,311.82 178.00,313.19 178.25,314.46 178.50,315.64 178.75,316.73 179.00,317.73 179.25,318.66 179.50,319.52 179.75,320.32 180.00,321.05 180.25,321.73 180.50,322.36 180.75,322.94 181.00,323.48 181.25,323.98 181.50,324.43 181.75,324.86 182.00,325.25 182.25,325.61 182.50,325.95 182.75,326.26 183.00,326.55 183.25,326.81 183.50,327.06 183.75,327.28 184.00,327.49 184.25,327.68 184.50,327.86 184.75,328.03 185.00,328.18 185.25,328.32 185.50,328.45 185.75,328.57 186.00,328.67 186.25,328.77 186.50,328.86 186.75,328.93 187.00,328.99 187.25,329.03 187.50,329.06 187.75,329.05 188.00,329.01 188.25,328.92 188.50,328.77 188.75,328.53 189.00,328.20 189.25,327.74 189.50,327.13 189.75,326.33 190.00,325.30 190.25,324.02 190.50,322.46 190.75,320.59 191.00,318.39 191.25,315.85 191.50,313.00 191.75,309.85 192.00,306.45 192.25,302.88 192.50,299.21 192.75,295.55 193.00,292.01 193.25,288.71 193.50,285.76 193.75,283.29 194.00,281.37 194.25,280.08 194.50,279.46 194.75,279.53 195.00,280.27 195.25,281.64 195.50,283.55 195.75,285.93 196.00,288.67 196.25,291.65 196.50,294.78 196.75,297.95 197.00,301.07 197.25,304.07 197.50,306.89 197.75,309.50 198.00,311.86 198.25,313.98 198.50,315.85 198.75,317.48 199.00,318.91 199.25,320.14 199.50,321.20 199.75,322.11 200.00,322.90 200.25,323.59 200.50,324.18 200.75,324.71 201.00,325.17 201.25,325.58 201.50,325.95 201.75,326.28 202.00,326.58 202.25,326.85 202.50,327.10 202.75,327.33 203.00,327.54 203.25,327.73 203.50,327.90 203.75,328.06 204.00,328.21 204.25,328.35 204.50,328.47 204.75,328.58 205.00,328.69 205.25,328.79 205.50,328.87 205.75,328.96 206.00,329.03 206.25,329.10 206.50,329.16 206.75,329.22 207.00,329.27 207.25,329.32 207.50,329.36 207.75,329.40 208.00,329.44 208.25,329.48 208.50,329.51 208.75,329.54 209.00,329.56 209.25,329.59 209.50,329.61 209.75,329.63 210.00,329.65 210.25,329.66 210.50,329.68 210.75,329.69 211.00,329.70 211.25,329.72 211.50,329.73 211.75,329.73 212.00,329.74 212.25,329.75 212.50,329.76 212.75,329.76 213.00,329.77 213.25,329.77 213.50,329.78 213.75,329.78 214.00,329.78 214.25,329.79 214.50,329.79 214.75,329.79 215.00,329.79 215.25,329.80 215.50,329.80 215.75,329.80 216.00,329.80 216.25,329.80 216.50,329.80 216.75,329.80 217.00,329.80 217.25,329.80 217.50,329.80 217.75,329.80 218.00,329.80 218.25,329.80 218.50,329.80 218.75,329.79 219.00,329.79 219.25,329.79 219.50,329.79 219.75,329.79 220.00,329.79 220.25,329.79 220.50,329.79 220.75,329.78 221.00,329.78 221.25,329.78 221.50,329.78 221.75,329.78 222.00,329.78 222.25,329.77 222.50,329.77 222.75,329.77 223.00,329.77 223.25,329.77 223.50,329.77 223.75,329.76 224.00,329.76 224.25,329.76 224.50,329.76 224.75,329.76 225.00,329.75 225.25,329.75 225.50,329.75 225.75,329.75 226.00,329.75 226.25,329.75 226.50,329.74 226.75,329.74 227.00,329.74 227.25,329.74 227.50,329.74 227.75,329.73 228.00,329.73 228.25,329.73 228.50,329.73 228.75,329.73 229.00,329.72 229.25,329.72 229.50,329.72 229.75,329.72 230.00,329.72 230.25,329.71 230.50,329.71 230.75,329.71 231.00,329.71 231.25,329.71 231.50,329.70 231.75,329.70 232.00,329.70 232.25,329.70 232.50,329.70 232.75,329.69 233.00,329.69 233.25,329.69 233.50,329.69 233.75,329.69 234.00,329.68 234.25,329.68 234.50,329.68 234.75,329.68 235.00,329.68 235.25,329.67 235.50,329.67 235.75,329.67 236.00,329.67 236.25,329.66 236.50,329.66 236.75,329.66 237.00,329.66 237.25,329.66 237.50,329.65 237.75,329.65 238.00,329.65 238.25,329.65 238.50,329.65 238.75,329.64 239.00,329.64 239.25,329.64 239.50,329.64 239.75,329.64 240.00,329.63 240.25,329.63 240.50,329.63 240.75,329.63 241.00,329.63 241.25,329.62 241.50,329.62 241.75,329.62 242.00,329.62 242.25,329.62 242.50,329.61 242.75,329.61 243.00,329.61 243.25,329.61 243.50,329.61 243.75,329.60 244.00,329.60 244.25,329.60 244.50,329.60 244.75,329.60 245.00,329.59 245.25,329.59 245.50,329.59 245.75,329.59 246.00,329.59 246.25,329.58 246.50,329.58 246.75,329.58 247.00,329.58 247.25,329.58 247.50,329.57 247.75,329.57 248.00,329.57 248.25,329.57 248.50,329.57 248.75,329.56 249.00,329.56 249.25,329.56 249.50,329.56 249.75,329.55 250.00,329.55 250.25,329.55 250.50,329.55 250.75,329.55 251.00,329.54 251.25,329.54 251.50,329.54 251.75,329.54 252.00,329.54 252.25,329.53 252.50,329.53 252.75,329.53 253.00,329.53 253.25,329.53 253.50,329.52 253.75,329.52 254.00,329.52 254.25,329.52 254.50,329.52 254.75,329.51 255.00,329.51 255.25,329.51 255.50,329.51"/>
<polyline fill="none" stroke="#1ec3c3" stroke-width="1.45" stroke-linejoin="round" points="302.65,330.30 302.90,330.30 303.15,330.30 303.40,330.30 303.65,330.30 303.90,330.30 304.15,330.30 304.40,330.30 304.65,330.30 304.90,330.30 305.15,330.30 305.40,330.30 305.65,330.30 305.90,330.30 306.15,330.30 306.40,330.30 306.65,330.30 306.90,330.30 307.15,330.30 307.40,330.30 307.65,330.30 307.90,330.30 308.15,330.30 308.40,330.30 308.65,330.30 308.90,330.30 309.15,330.30 309.40,330.30 309.65,330.30 309.90,330.30 310.15,330.30 310.40,330.30 310.65,330.30 310.90,330.30 311.15,330.30 311.40,330.30 311.65,330.30 311.90,330.30 312.15,330.30 312.40,330.30 312.65,330.30 312.90,330.30 313.15,330.30 313.40,330.30 313.65,330.30 313.90,330.30 314.15,330.30 314.40,330.30 314.65,330.30 314.90,330.30 315.15,330.30 315.40,330.30 315.65,330.30 315.90,330.30 316.15,330.30 316.40,330.30 316.65,330.30 316.90,330.30 317.15,330.30 317.40,330.30 317.65,330.30 317.90,330.30 318.15,330.30 318.40,330.30 318.65,330.30 318.90,330.30 319.15,330.30 319.40,330.30 319.65,330.30 319.90,330.30 320.15,330.30 320.40,330.30 320.65,330.30 320.90,330.30 321.15,330.30 321.40,330.30 321.65,330.30 321.90,330.30 322.15,330.30 322.40,330.30 322.65,330.30 322.90,330.30 323.15,330.30 323.40,330.30 323.65,330.30 323.90,330.30 324.15,330.30 324.40,330.30 324.65,330.30 324.90,330.30 325.15,330.30 325.40,330.30 325.65,330.30 325.90,330.30 326.15,330.30 326.40,330.30 326.65,330.30 326.90,330.30 327.15,330.30 327.40,330.30 327.65,330.30 327.90,330.30 328.15,330.30 328.40,330.30 328.65,330.30 328.90,330.30 329.15,330.30 329.40,330.30 329.65,330.29 329.90,330.29 330.15,330.28 330.40,330.27 330.65,330.25 330.90,330.22 331.15,330.18 331.40,330.11 331.65,330.02 331.90,329.88 332.15,329.69 332.40,329.42 332.65,329.06 332.90,328.58 333.15,327.96 333.40,327.16 333.65,326.14 333.90,324.86 334.15,323.25 334.40,321.21 334.65,318.64 334.90,315.42 335.15,311.48 335.40,306.86 335.65,301.76 335.90,296.57 336.15,291.82 336.40,288.07 336.65,285.74 336.90,285.00 337.15,285.71 337.40,287.50 337.65,289.91 337.90,292.54 338.15,295.12 338.40,297.55 338.65,299.83 338.90,302.02 339.15,304.17 339.40,306.32 339.65,308.47 339.90,310.59 340.15,312.67 340.40,314.65 340.65,316.52 340.90,318.26 341.15,319.84 341.40,321.26 341.65,322.53 341.90,323.64 342.15,324.62 342.40,325.47 342.65,326.20 342.90,326.82 343.15,327.36 343.40,327.81 343.65,328.20 343.90,328.53 344.15,328.81 344.40,329.04 344.65,329.24 344.90,329.40 345.15,329.54 345.40,329.66 345.65,329.76 345.90,329.85 346.15,329.92 346.40,329.97 346.65,330.02 346.90,330.06 347.15,330.08 347.40,330.09 347.65,330.09 347.90,330.07 348.15,330.03 348.40,329.95 348.65,329.83 348.90,329.65 349.15,329.39 349.40,329.04 349.65,328.55 349.90,327.92 350.15,327.08 350.40,326.02 350.65,324.67 350.90,322.98 351.15,320.84 351.40,318.13 351.65,314.72 351.90,310.49 352.15,305.38 352.40,299.52 352.65,293.24 352.90,287.09 353.15,281.75 353.40,277.86 353.65,275.81 353.90,275.65 354.15,277.09 354.40,279.63 354.65,282.70 354.90,285.89 355.15,288.95 355.40,291.81 355.65,294.51 355.90,297.13 356.15,299.73 356.40,302.33 356.65,304.92 356.90,307.48 357.15,309.95 357.40,312.30 357.65,314.49 357.90,316.52 358.15,318.35 358.40,320.00 358.65,321.46 358.90,322.74 359.15,323.86 359.40,324.82 359.65,325.65 359.90,326.37 360.15,326.97 360.40,327.49 360.65,327.93 360.90,328.30 361.15,328.61 361.40,328.88 361.65,329.10 361.90,329.29 362.15,329.45 362.40,329.58 362.65,329.69 362.90,329.79 363.15,329.87 363.40,329.94 363.65,329.99 363.90,330.04 364.15,330.08 364.40,330.11 364.65,330.14 364.90,330.16 365.15,330.17 365.40,330.18 365.65,330.17 365.90,330.16 366.15,330.14 366.40,330.11 366.65,330.06 366.90,329.98 367.15,329.87 367.40,329.73 367.65,329.55 367.90,329.30 368.15,328.99 368.40,328.60 368.65,328.11 368.90,327.52 369.15,326.79 369.40,325.93 369.65,324.91 369.90,323.70 370.15,322.30 370.40,320.67 370.65,318.80 370.90,316.66 371.15,314.25 371.40,311.59 371.65,308.73 371.90,305.76 372.15,302.82 372.40,300.05 372.65,297.59 372.90,295.57 373.15,294.03 373.40,292.98 373.65,292.37 373.90,292.12 374.15,292.14 374.40,292.37 374.65,292.75 374.90,293.28 375.15,293.96 375.40,294.78 375.65,295.75 375.90,296.87 376.15,298.12 376.40,299.48 376.65,300.94 376.90,302.46 377.15,304.01 377.40,305.58 377.65,307.13 377.90,308.66 378.15,310.14 378.40,311.57 378.65,312.94 378.90,314.23 379.15,315.45 379.40,316.59 379.65,317.66 379.90,318.65 380.15,319.58 380.40,320.43 380.65,321.22 380.90,321.96 381.15,322.63 381.40,323.25 381.65,323.82 381.90,324.34 382.15,324.83 382.40,325.27 382.65,325.68 382.90,326.06 383.15,326.40 383.40,326.72 383.65,327.01 383.90,327.28 384.15,327.52 384.40,327.75 384.65,327.95 384.90,328.15 385.15,328.32 385.40,328.48 385.65,328.63 385.90,328.76 386.15,328.89 386.40,329.00 386.65,329.11 386.90,329.21 387.15,329.29 387.40,329.38 387.65,329.45 387.90,329.52 388.15,329.58 388.40,329.64 388.65,329.69 388.90,329.74 389.15,329.78 389.40,329.81 389.65,329.84 389.90,329.85 390.15,329.85 390.40,329.83 390.65,329.79 390.90,329.71 391.15,329.58 391.40,329.39 391.65,329.11 391.90,328.74 392.15,328.24 392.40,327.58 392.65,326.73 392.90,325.65 393.15,324.28 393.40,322.56 393.65,320.38 393.90,317.62 394.15,314.18 394.40,310.00 394.65,305.14 394.90,299.86 395.15,294.58 395.40,289.87 395.65,286.29 395.90,284.23 396.15,283.79 396.40,284.78 396.65,286.78 396.90,289.34 397.15,292.05 397.40,294.67 397.65,297.14 397.90,299.45 398.15,301.69 398.40,303.90 398.65,306.10 398.90,308.31 399.15,310.49 399.40,312.60 399.65,314.62 399.90,316.51 400.15,318.26 400.40,319.85 400.65,321.28 400.90,322.55 401.15,323.67 401.40,324.64 401.65,325.49 401.90,326.22 402.15,326.84 402.40,327.37 402.65,327.83 402.90,328.21 403.15,328.54 403.40,328.81 403.65,329.05 403.90,329.24 404.15,329.41 404.40,329.55 404.65,329.67 404.90,329.77 405.15,329.85 405.40,329.92 405.65,329.98 405.90,330.03 406.15,330.07 406.40,330.11 406.65,330.14 406.90,330.16 407.15,330.18 407.40,330.20 407.65,330.22 407.90,330.23 408.15,330.24 408.40,330.25 408.65,330.26 408.90,330.26 409.15,330.27 409.40,330.27 409.65,330.28 409.90,330.28 410.15,330.28 410.40,330.29 410.65,330.29 410.90,330.29 411.15,330.29 411.40,330.29 411.65,330.29 411.90,330.28 412.15,330.27 412.40,330.26 412.65,330.23 412.90,330.20 413.15,330.14 413.40,330.06 413.65,329.93 413.90,329.76 414.15,329.52 414.40,329.18 414.65,328.74 414.90,328.15 415.15,327.39 415.40,326.41 415.65,325.18 415.90,323.63 416.15,321.68 416.40,319.21 416.65,316.10 416.90,312.23 417.15,307.57 417.40,302.22 417.65,296.49 417.90,290.88 418.15,286.01 418.40,282.45 418.65,280.58 418.90,280.44 419.15,281.76 419.40,284.07 419.65,286.87 419.90,289.78 420.15,292.57 420.40,295.18 420.65,297.64 420.90,300.03 421.15,302.41 421.40,304.78 421.65,307.15 421.90,309.48 422.15,311.73 422.40,313.87 422.65,315.88 422.90,317.72 423.15,319.40 423.40,320.90 423.65,322.23 423.90,323.40 424.15,324.42 424.40,325.30 424.65,326.06 424.90,326.71 425.15,327.26 425.40,327.73 425.65,328.13 425.90,328.47 426.15,328.76 426.40,329.00 426.65,329.20 426.90,329.38 427.15,329.52 427.40,329.64 427.65,329.75 427.90,329.83 428.15,329.91 428.40,329.97 428.65,330.02 428.90,330.07 429.15,330.10 429.40,330.13 429.65,330.16 429.90,330.18 430.15,330.20 430.40,330.22 430.65,330.23 430.90,330.24 431.15,330.25 431.40,330.26 431.65,330.26 431.90,330.26 432.15,330.26 432.40,330.26 432.65,330.25 432.90,330.23 433.15,330.21 433.40,330.16 433.65,330.10 433.90,330.00 434.15,329.86 434.40,329.66 434.65,329.38 434.90,329.02 435.15,328.53 435.40,327.89 435.65,327.08 435.90,326.05 436.15,324.75 436.40,323.12 436.65,321.06 436.90,318.45 437.15,315.20 437.40,311.26 437.65,306.68 437.90,301.69 438.15,296.71 438.40,292.27 438.65,288.90 438.90,286.95 439.15,286.53 439.40,287.46 439.65,289.35 439.90,291.75 440.15,294.30 440.40,296.77 440.65,299.09 440.90,301.27 441.15,303.37 441.40,305.45 441.65,307.53 441.90,309.60 442.15,311.65 442.40,313.64 442.65,315.54 442.90,317.33 443.15,318.97 443.40,320.47 443.65,321.82 443.90,323.01 444.15,324.06 444.40,324.98 444.65,325.78 444.90,326.46 445.15,327.05 445.40,327.55 445.65,327.98 445.90,328.34 446.15,328.64 446.40,328.90 446.65,329.12 446.90,329.31 447.15,329.46 447.40,329.59 447.65,329.71 447.90,329.80 448.15,329.88 448.40,329.94 448.65,330.00 448.90,330.05 449.15,330.09 449.40,330.12 449.65,330.15 449.90,330.17 450.15,330.19 450.40,330.21 450.65,330.22 450.90,330.23 451.15,330.24 451.40,330.24 451.65,330.23 451.90,330.22 452.15,330.20 452.40,330.16 452.65,330.10 452.90,330.01 453.15,329.87 453.40,329.68 453.65,329.41 453.90,329.05 454.15,328.56 454.40,327.93 454.65,327.11 454.90,326.07 455.15,324.75 455.40,323.09 455.65,321.00 455.90,318.36 456.15,315.05 456.40,310.98 456.65,306.15 456.90,300.74 457.15,295.13 457.40,289.88 457.65,285.59 457.90,282.76 458.15,281.63 458.40,282.10 458.65,283.83 458.90,286.33 459.15,289.14 459.40,291.94 459.65,294.59 459.90,297.07 460.15,299.43 460.40,301.75 460.65,304.06 460.90,306.37 461.15,308.66 461.40,310.91 461.65,313.06 461.90,315.10 462.15,316.99 462.40,318.72 462.65,320.29 462.90,321.68 463.15,322.92 463.40,323.99 463.65,324.93 463.90,325.74 464.15,326.44 464.40,327.03 464.65,327.54 464.90,327.96 465.15,328.33 465.40,328.64 465.65,328.90 465.90,329.12 466.15,329.30 466.40,329.46 466.65,329.59 466.90,329.70 467.15,329.80 467.40,329.88 467.65,329.94 467.90,330.00 468.15,330.05 468.40,330.09 468.65,330.12 468.90,330.15 469.15,330.17 469.40,330.19 469.65,330.21 469.90,330.22 470.15,330.24 470.40,330.25 470.65,330.25 470.90,330.26 471.15,330.27 471.40,330.27 471.65,330.28 471.90,330.28 472.15,330.28 472.40,330.29 472.65,330.29 472.90,330.29 473.15,330.29 473.40,330.28 473.65,330.28 473.90,330.27 474.15,330.26 474.40,330.23 474.65,330.20 474.90,330.14 475.15,330.06 475.40,329.94 475.65,329.78 475.90,329.54 476.15,329.23 476.40,328.80 476.65,328.25 476.90,327.53 477.15,326.61 477.40,325.45 477.65,323.99 477.90,322.15 478.15,319.83 478.40,316.91 478.65,313.29 478.90,308.97 479.15,304.07 479.40,298.90 479.65,293.95 479.90,289.78 480.15,286.87 480.40,285.51 480.65,285.67 480.90,287.07 481.15,289.26 481.40,291.83 481.65,294.43 481.90,296.90 482.15,299.21 482.40,301.41 482.65,303.55 482.90,305.68 483.15,307.81 483.40,309.93 483.65,312.01 483.90,314.02 484.15,315.92 484.40,317.69 484.65,319.32 484.90,320.79 485.15,322.11 485.40,323.28 485.65,324.30 485.90,325.19 486.15,325.96 486.40,326.62 486.65,327.18 486.90,327.66 487.15,328.07 487.40,328.42 487.65,328.71 487.90,328.96 488.15,329.17 488.40,329.35 488.65,329.50 488.90,329.62 489.15,329.73 489.40,329.82 489.65,329.90 489.90,329.96 490.15,330.01 490.40,330.06 490.65,330.10 490.90,330.13 491.15,330.16 491.40,330.18 491.65,330.20 491.90,330.21 492.15,330.23 492.40,330.24 492.65,330.25 492.90,330.26 493.15,330.26 493.40,330.27 493.65,330.27 493.90,330.28 494.15,330.28 494.40,330.28 494.65,330.29 494.90,330.29 495.15,330.29 495.40,330.29 495.65,330.29 495.90,330.29 496.15,330.30 496.40,330.30 496.65,330.30 496.90,330.30 497.15,330.30 497.40,330.30 497.65,330.30 497.90,330.30 498.15,330.30 498.40,330.30 498.65,330.30 498.90,330.30 499.15,330.30 499.40,330.30 499.65,330.30 499.90,330.30 500.15,330.30 500.40,330.30 500.65,330.30 500.90,330.30 501.15,330.30 501.40,330.30 501.65,330.30 501.90,330.30 502.15,330.30 502.40,330.30 502.65,330.30 502.90,330.30 503.15,330.30 503.40,330.30 503.65,330.30 503.90,330.30 504.15,330.30 504.40,330.30 504.65,330.30 504.90,330.30 505.15,330.30 505.40,330.30 505.65,330.30 505.90,330.30 506.15,330.30 506.40,330.30 506.65,330.30 506.90,330.30 507.15,330.30 507.40,330.30 507.65,330.30 507.90,330.30 508.15,330.30 508.40,330.30 508.65,330.30 508.90,330.30 509.15,330.30 509.40,330.30 509.65,330.30 509.90,330.30 510.15,330.30 510.40,330.30 510.65,330.30 510.90,330.30 511.15,330.30 511.40,330.30 511.65,330.30 511.90,330.30 512.15,330.30 512.40,330.30 512.65,330.30 512.90,330.30 513.15,330.30 513.40,330.30 513.65,330.30 513.90,330.30 514.15,330.30 514.40,330.30 514.65,330.30 514.90,330.30 515.15,330.30 515.40,330.30 515.65,330.30 515.90,330.30 516.15,330.30 516.40,330.30 516.65,330.30 516.90,330.30 517.15,330.30 517.40,330.30 517.65,330.30 517.90,330.30 518.15,330.30 518.40,330.30 518.65,330.30 518.90,330.30 519.15,330.30 519.40,330.30 519.65,330.30 519.90,330.30 520.15,330.30 520.40,330.30 520.65,330.30 520.90,330.30 521.15,330.30 521.40,330.30 521.65,330.30 521.90,330.30 522.15,330.30 522.40,330.30 522.65,330.30 522.90,330.30 523.15,330.30 523.40,330.30 523.65,330.30 523.90,330.30 524.15,330.30 524.40,330.30 524.65,330.30 524.90,330.30 525.15,330.30 525.40,330.30 525.65,330.30 525.90,330.30 526.15,330.30 526.40,330.30 526.65,330.30 526.90,330.30 527.15,330.30 527.40,330.30 527.65,330.30 527.90,330.30 528.15,330.30 528.40,330.30 528.65,330.30 528.90,330.30 529.15,330.30 529.40,330.30 529.65,330.30 529.90,330.30 530.15,330.30 530.40,330.30"/>
<rect x="26.25" y="1.8" width="230.25" height="348.80" fill="none" stroke="#111" stroke-width="1.5"/>
<line x1="47.16" y1="350.60" x2="47.16" y2="348.30" stroke="#111" stroke-width="1.3"/>
<line x1="68.08" y1="350.60" x2="68.08" y2="346.60" stroke="#111" stroke-width="1.3"/>
<line x1="89.00" y1="350.60" x2="89.00" y2="348.30" stroke="#111" stroke-width="1.3"/>
<line x1="109.91" y1="350.60" x2="109.91" y2="346.60" stroke="#111" stroke-width="1.3"/>
<line x1="130.82" y1="350.60" x2="130.82" y2="348.30" stroke="#111" stroke-width="1.3"/>
<line x1="151.74" y1="350.60" x2="151.74" y2="346.60" stroke="#111" stroke-width="1.3"/>
<line x1="172.66" y1="350.60" x2="172.66" y2="348.30" stroke="#111" stroke-width="1.3"/>
<line x1="193.57" y1="350.60" x2="193.57" y2="346.60" stroke="#111" stroke-width="1.3"/>
<line x1="214.48" y1="350.60" x2="214.48" y2="348.30" stroke="#111" stroke-width="1.3"/>
<line x1="235.40" y1="350.60" x2="235.40" y2="346.60" stroke="#111" stroke-width="1.3"/>
<text x="26.25" y="366" font-size="12.5" text-anchor="middle" fill="#111">0</text>
<text x="68.08" y="366" font-size="12.5" text-anchor="middle" fill="#111">1</text>
<text x="109.91" y="366" font-size="12.5" text-anchor="middle" fill="#111">2</text>
<text x="151.74" y="366" font-size="12.5" text-anchor="middle" fill="#111">3</text>
<text x="193.57" y="366" font-size="12.5" text-anchor="middle" fill="#111">4</text>
<text x="235.40" y="366" font-size="12.5" text-anchor="middle" fill="#111">5</text>
<rect x="301.9" y="4.2" width="229.30" height="346.40" fill="none" stroke="#111" stroke-width="1.5"/>
<line x1="319.01" y1="350.60" x2="319.01" y2="348.30" stroke="#111" stroke-width="1.3"/>
<line x1="336.13" y1="350.60" x2="336.13" y2="346.60" stroke="#111" stroke-width="1.3"/>
<line x1="353.25" y1="350.60" x2="353.25" y2="348.30" stroke="#111" stroke-width="1.3"/>
<line x1="370.36" y1="350.60" x2="370.36" y2="346.60" stroke="#111" stroke-width="1.3"/>
<line x1="387.47" y1="350.60" x2="387.47" y2="348.30" stroke="#111" stroke-width="1.3"/>
<line x1="404.59" y1="350.60" x2="404.59" y2="346.60" stroke="#111" stroke-width="1.3"/>
<line x1="421.70" y1="350.60" x2="421.70" y2="348.30" stroke="#111" stroke-width="1.3"/>
<line x1="438.82" y1="350.60" x2="438.82" y2="346.60" stroke="#111" stroke-width="1.3"/>
<line x1="455.93" y1="350.60" x2="455.93" y2="348.30" stroke="#111" stroke-width="1.3"/>
<line x1="473.05" y1="350.60" x2="473.05" y2="346.60" stroke="#111" stroke-width="1.3"/>
<line x1="490.16" y1="350.60" x2="490.16" y2="348.30" stroke="#111" stroke-width="1.3"/>
<line x1="507.28" y1="350.60" x2="507.28" y2="346.60" stroke="#111" stroke-width="1.3"/>
<line x1="524.39" y1="350.60" x2="524.39" y2="348.30" stroke="#111" stroke-width="1.3"/>
<text x="301.90" y="366" font-size="12.5" text-anchor="middle" fill="#111">0</text>
<text x="336.13" y="366" font-size="12.5" text-anchor="middle" fill="#111">1</text>
<text x="370.36" y="366" font-size="12.5" text-anchor="middle" fill="#111">2</text>
<text x="404.59" y="366" font-size="12.5" text-anchor="middle" fill="#111">3</text>
<text x="438.82" y="366" font-size="12.5" text-anchor="middle" fill="#111">4</text>
<text x="473.05" y="366" font-size="12.5" text-anchor="middle" fill="#111">5</text>
<text x="507.28" y="366" font-size="12.5" text-anchor="middle" fill="#111">6</text>
<text x="148.4" y="380" font-size="12.9" text-anchor="middle" fill="#111">Time (min)</text>
<text x="422.8" y="380" font-size="12.9" text-anchor="middle" fill="#111">Time (min)</text>
<text transform="translate(10.6,176) rotate(-90)" font-size="13.3" text-anchor="middle" fill="#111">FID response (mV)</text>
<text transform="translate(285.7,176.8) rotate(-90)" font-size="13.3" text-anchor="middle" fill="#111">FID response (mV)</text>
<text x="28.6" y="15.7" font-size="13" font-weight="bold" fill="#000">(a)</text>
<text x="303.2" y="18.1" font-size="13" font-weight="bold" fill="#000">(b)</text>
<rect x="212.5" y="2.2" width="44.2" height="17.6" fill="#f5a04a"/>
<text x="215.1" y="14.7" font-size="11.6" textLength="40.6" lengthAdjust="spacingAndGlyphs" fill="#fff">&#181;GC-IL</text>
<rect x="446.6" y="4.6" width="84.8" height="17.8" fill="#6fbf6f"/>
<text x="457.96" y="18.4" font-size="11.6" textLength="69.7" lengthAdjust="spacingAndGlyphs" fill="#fff">&#181;GC-IL/MOF</text>
<text x="47.00" y="37.20" font-size="10.8" fill="#111">C5</text>
<text x="60.50" y="16.30" font-size="10.8" fill="#111">C6</text>
<text x="78.10" y="31.30" font-size="10.8" fill="#111">C7</text>
<text x="97.10" y="31.90" font-size="10.8" fill="#111">C8</text>
<text x="122.10" y="24.70" font-size="10.8" fill="#111">C9</text>
<text x="141.50" y="24.50" font-size="10.8" fill="#111">C10</text>
<text x="164.00" y="25.30" font-size="10.8" fill="#111">C11</text>
<text x="189.00" y="26.00" font-size="10.8" fill="#111">C12</text>
<text x="321.40" y="34.50" font-size="10.8" fill="#111">C5</text>
<text x="347.70" y="24.30" font-size="10.8" fill="#111">C6</text>
<text x="369.00" y="40.30" font-size="10.8" fill="#111">C7</text>
<text x="390.00" y="33.50" font-size="10.8" fill="#111">C8</text>
<text x="414.60" y="29.40" font-size="10.8" fill="#111">C9</text>
<text x="433.20" y="33.50" font-size="10.8" fill="#111">C10</text>
<text x="458.00" y="34.30" font-size="10.8" fill="#111">C11</text>
<text x="482.80" y="35.50" font-size="10.8" fill="#111">C12</text>
<text x="212.70" y="77.00" font-size="10.8" font-weight="bold" fill="#6478f0">50 days</text>
<text x="489.80" y="79.40" font-size="10.8" font-weight="bold" fill="#6478f0">50 days</text>
<text x="207.00" y="139.10" font-size="10.8" font-weight="bold" fill="#88d62a">40 days</text>
<text x="488.30" y="141.20" font-size="10.8" font-weight="bold" fill="#88d62a">40 days</text>
<text x="207.30" y="201.70" font-size="10.8" font-weight="bold" fill="#1e96f0">30 days</text>
<text x="489.30" y="201.40" font-size="10.8" font-weight="bold" fill="#1e96f0">30 days</text>
<text x="209.40" y="261.70" font-size="10.8" font-weight="bold" fill="#f53c3c">20 days</text>
<text x="489.10" y="262.00" font-size="10.8" font-weight="bold" fill="#f53c3c">20 days</text>
<text x="207.30" y="325.00" font-size="10.8" font-weight="bold" fill="#14b4b4">10 days</text>
<text x="487.50" y="323.90" font-size="10.8" font-weight="bold" fill="#14b4b4">10 days</text>
</svg></body></html>
